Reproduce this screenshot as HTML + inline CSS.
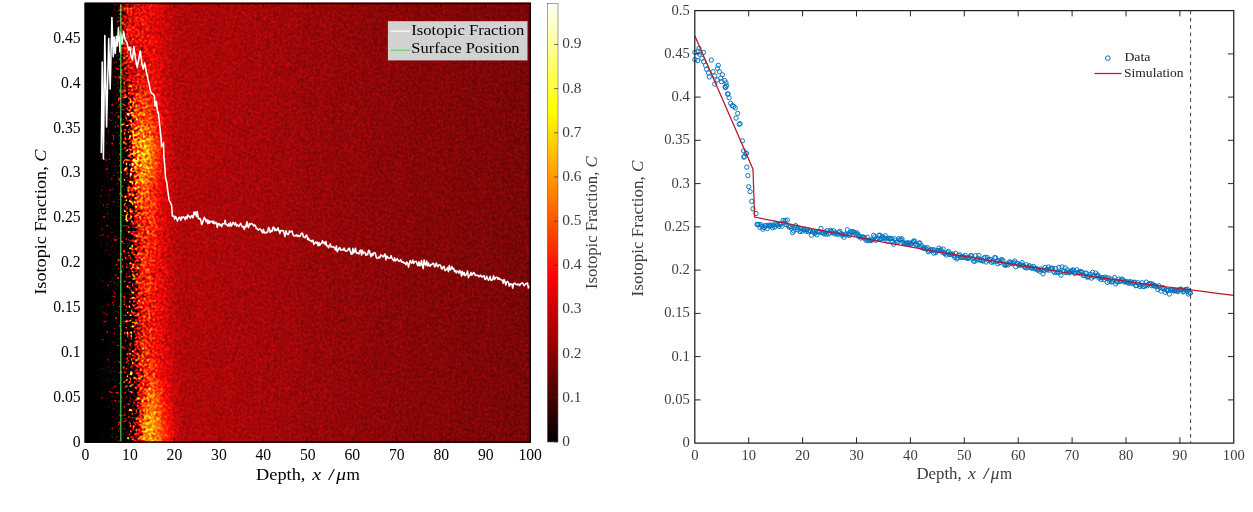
<!DOCTYPE html>
<html><head><meta charset="utf-8"><title>Isotopic fraction depth profile</title>
<style>
html,body{margin:0;padding:0;background:#fff;}
body{width:1253px;height:512px;overflow:hidden;font-family:"Liberation Serif","DejaVu Serif",serif;}
svg{display:block;font-family:"Liberation Serif","DejaVu Serif",serif;}
</style></head><body>
<svg width="1253" height="512" viewBox="0 0 1253 512">
<defs>
<linearGradient id="g0" gradientUnits="userSpaceOnUse" x1="73" x2="543" y1="0" y2="0"><stop offset="0.0255" stop-color="rgb(32,0,0)"/><stop offset="0.0574" stop-color="rgb(13,38,0)"/><stop offset="0.0647" stop-color="rgb(0,153,0)"/><stop offset="0.0775" stop-color="rgb(36,140,0)"/><stop offset="0.0903" stop-color="rgb(73,128,0)"/><stop offset="0.0988" stop-color="rgb(124,102,0)"/><stop offset="0.1073" stop-color="rgb(155,77,0)"/><stop offset="0.1158" stop-color="rgb(168,64,0)"/><stop offset="0.1243" stop-color="rgb(175,54,0)"/><stop offset="0.1328" stop-color="rgb(180,46,0)"/><stop offset="0.1413" stop-color="rgb(183,41,0)"/><stop offset="0.1541" stop-color="rgb(186,34,0)"/><stop offset="0.1669" stop-color="rgb(189,28,0)"/><stop offset="0.1796" stop-color="rgb(190,23,0)"/><stop offset="0.1924" stop-color="rgb(188,19,0)"/><stop offset="0.2052" stop-color="rgb(187,17,0)"/><stop offset="0.2179" stop-color="rgb(186,15,0)"/><stop offset="0.2404" stop-color="rgb(186,13,0)"/><stop offset="0.2702" stop-color="rgb(186,13,0)"/><stop offset="0.3979" stop-color="rgb(184,13,0)"/><stop offset="0.5894" stop-color="rgb(181,12,0)"/><stop offset="0.7809" stop-color="rgb(179,11,0)"/><stop offset="0.9734" stop-color="rgb(177,11,0)"/></linearGradient><linearGradient id="g1" gradientUnits="userSpaceOnUse" x1="73" x2="543" y1="0" y2="0"><stop offset="0.0255" stop-color="rgb(32,0,0)"/><stop offset="0.0574" stop-color="rgb(13,38,0)"/><stop offset="0.0649" stop-color="rgb(0,153,0)"/><stop offset="0.0777" stop-color="rgb(36,140,0)"/><stop offset="0.0904" stop-color="rgb(73,128,0)"/><stop offset="0.0989" stop-color="rgb(124,102,0)"/><stop offset="0.1074" stop-color="rgb(155,77,0)"/><stop offset="0.1160" stop-color="rgb(168,64,0)"/><stop offset="0.1245" stop-color="rgb(175,54,0)"/><stop offset="0.1330" stop-color="rgb(180,46,0)"/><stop offset="0.1415" stop-color="rgb(183,41,0)"/><stop offset="0.1543" stop-color="rgb(186,34,0)"/><stop offset="0.1670" stop-color="rgb(189,28,0)"/><stop offset="0.1798" stop-color="rgb(190,23,0)"/><stop offset="0.1926" stop-color="rgb(188,19,0)"/><stop offset="0.2053" stop-color="rgb(187,17,0)"/><stop offset="0.2181" stop-color="rgb(186,15,0)"/><stop offset="0.2404" stop-color="rgb(186,13,0)"/><stop offset="0.2702" stop-color="rgb(186,13,0)"/><stop offset="0.3979" stop-color="rgb(184,13,0)"/><stop offset="0.5894" stop-color="rgb(181,12,0)"/><stop offset="0.7809" stop-color="rgb(179,11,0)"/><stop offset="0.9734" stop-color="rgb(177,11,0)"/></linearGradient><linearGradient id="g2" gradientUnits="userSpaceOnUse" x1="73" x2="543" y1="0" y2="0"><stop offset="0.0255" stop-color="rgb(32,0,0)"/><stop offset="0.0574" stop-color="rgb(13,38,0)"/><stop offset="0.0650" stop-color="rgb(0,153,0)"/><stop offset="0.0778" stop-color="rgb(36,140,0)"/><stop offset="0.0906" stop-color="rgb(73,128,0)"/><stop offset="0.0991" stop-color="rgb(124,102,0)"/><stop offset="0.1076" stop-color="rgb(155,78,0)"/><stop offset="0.1161" stop-color="rgb(168,64,0)"/><stop offset="0.1246" stop-color="rgb(175,54,0)"/><stop offset="0.1331" stop-color="rgb(180,46,0)"/><stop offset="0.1416" stop-color="rgb(183,41,0)"/><stop offset="0.1544" stop-color="rgb(186,35,0)"/><stop offset="0.1672" stop-color="rgb(189,28,0)"/><stop offset="0.1799" stop-color="rgb(190,23,0)"/><stop offset="0.1927" stop-color="rgb(189,19,0)"/><stop offset="0.2055" stop-color="rgb(187,17,0)"/><stop offset="0.2182" stop-color="rgb(186,15,0)"/><stop offset="0.2404" stop-color="rgb(186,13,0)"/><stop offset="0.2702" stop-color="rgb(186,13,0)"/><stop offset="0.3979" stop-color="rgb(184,13,0)"/><stop offset="0.5894" stop-color="rgb(181,12,0)"/><stop offset="0.7809" stop-color="rgb(179,11,0)"/><stop offset="0.9734" stop-color="rgb(177,11,0)"/></linearGradient><linearGradient id="g3" gradientUnits="userSpaceOnUse" x1="73" x2="543" y1="0" y2="0"><stop offset="0.0255" stop-color="rgb(32,0,0)"/><stop offset="0.0574" stop-color="rgb(13,38,0)"/><stop offset="0.0652" stop-color="rgb(0,153,0)"/><stop offset="0.0779" stop-color="rgb(36,140,0)"/><stop offset="0.0907" stop-color="rgb(73,128,0)"/><stop offset="0.0992" stop-color="rgb(124,102,0)"/><stop offset="0.1077" stop-color="rgb(154,79,0)"/><stop offset="0.1162" stop-color="rgb(168,65,0)"/><stop offset="0.1248" stop-color="rgb(175,54,0)"/><stop offset="0.1333" stop-color="rgb(180,47,0)"/><stop offset="0.1418" stop-color="rgb(183,41,0)"/><stop offset="0.1545" stop-color="rgb(186,35,0)"/><stop offset="0.1673" stop-color="rgb(189,28,0)"/><stop offset="0.1801" stop-color="rgb(190,23,0)"/><stop offset="0.1928" stop-color="rgb(189,19,0)"/><stop offset="0.2056" stop-color="rgb(187,17,0)"/><stop offset="0.2184" stop-color="rgb(186,15,0)"/><stop offset="0.2404" stop-color="rgb(186,13,0)"/><stop offset="0.2702" stop-color="rgb(186,13,0)"/><stop offset="0.3979" stop-color="rgb(184,13,0)"/><stop offset="0.5894" stop-color="rgb(181,12,0)"/><stop offset="0.7809" stop-color="rgb(179,11,0)"/><stop offset="0.9734" stop-color="rgb(177,11,0)"/></linearGradient><linearGradient id="g4" gradientUnits="userSpaceOnUse" x1="73" x2="543" y1="0" y2="0"><stop offset="0.0255" stop-color="rgb(32,0,0)"/><stop offset="0.0574" stop-color="rgb(13,38,0)"/><stop offset="0.0653" stop-color="rgb(0,153,0)"/><stop offset="0.0781" stop-color="rgb(36,140,0)"/><stop offset="0.0909" stop-color="rgb(73,128,0)"/><stop offset="0.0994" stop-color="rgb(124,102,0)"/><stop offset="0.1079" stop-color="rgb(153,80,0)"/><stop offset="0.1164" stop-color="rgb(167,66,0)"/><stop offset="0.1249" stop-color="rgb(175,55,0)"/><stop offset="0.1334" stop-color="rgb(179,47,0)"/><stop offset="0.1419" stop-color="rgb(183,42,0)"/><stop offset="0.1547" stop-color="rgb(186,35,0)"/><stop offset="0.1675" stop-color="rgb(189,28,0)"/><stop offset="0.1802" stop-color="rgb(190,23,0)"/><stop offset="0.1930" stop-color="rgb(189,19,0)"/><stop offset="0.2058" stop-color="rgb(187,17,0)"/><stop offset="0.2185" stop-color="rgb(186,15,0)"/><stop offset="0.2404" stop-color="rgb(186,13,0)"/><stop offset="0.2702" stop-color="rgb(186,13,0)"/><stop offset="0.3979" stop-color="rgb(184,13,0)"/><stop offset="0.5894" stop-color="rgb(181,12,0)"/><stop offset="0.7809" stop-color="rgb(179,11,0)"/><stop offset="0.9734" stop-color="rgb(177,11,0)"/></linearGradient><linearGradient id="g5" gradientUnits="userSpaceOnUse" x1="73" x2="543" y1="0" y2="0"><stop offset="0.0255" stop-color="rgb(32,0,0)"/><stop offset="0.0574" stop-color="rgb(13,38,0)"/><stop offset="0.0655" stop-color="rgb(0,153,0)"/><stop offset="0.0782" stop-color="rgb(36,140,0)"/><stop offset="0.0910" stop-color="rgb(73,128,0)"/><stop offset="0.0995" stop-color="rgb(124,102,0)"/><stop offset="0.1080" stop-color="rgb(152,81,0)"/><stop offset="0.1165" stop-color="rgb(167,66,0)"/><stop offset="0.1250" stop-color="rgb(175,55,0)"/><stop offset="0.1336" stop-color="rgb(179,48,0)"/><stop offset="0.1421" stop-color="rgb(183,42,0)"/><stop offset="0.1548" stop-color="rgb(186,35,0)"/><stop offset="0.1676" stop-color="rgb(189,28,0)"/><stop offset="0.1804" stop-color="rgb(190,23,0)"/><stop offset="0.1931" stop-color="rgb(189,19,0)"/><stop offset="0.2059" stop-color="rgb(187,17,0)"/><stop offset="0.2187" stop-color="rgb(186,15,0)"/><stop offset="0.2404" stop-color="rgb(186,13,0)"/><stop offset="0.2702" stop-color="rgb(186,13,0)"/><stop offset="0.3979" stop-color="rgb(184,13,0)"/><stop offset="0.5894" stop-color="rgb(181,12,0)"/><stop offset="0.7809" stop-color="rgb(179,11,0)"/><stop offset="0.9734" stop-color="rgb(177,11,0)"/></linearGradient><linearGradient id="g6" gradientUnits="userSpaceOnUse" x1="73" x2="543" y1="0" y2="0"><stop offset="0.0255" stop-color="rgb(32,0,0)"/><stop offset="0.0574" stop-color="rgb(13,38,0)"/><stop offset="0.0656" stop-color="rgb(0,153,0)"/><stop offset="0.0784" stop-color="rgb(36,140,0)"/><stop offset="0.0912" stop-color="rgb(73,128,0)"/><stop offset="0.0997" stop-color="rgb(124,102,0)"/><stop offset="0.1082" stop-color="rgb(151,83,0)"/><stop offset="0.1167" stop-color="rgb(167,67,0)"/><stop offset="0.1252" stop-color="rgb(175,55,0)"/><stop offset="0.1337" stop-color="rgb(179,48,0)"/><stop offset="0.1422" stop-color="rgb(183,42,0)"/><stop offset="0.1550" stop-color="rgb(186,35,0)"/><stop offset="0.1677" stop-color="rgb(189,28,0)"/><stop offset="0.1805" stop-color="rgb(190,23,0)"/><stop offset="0.1933" stop-color="rgb(189,19,0)"/><stop offset="0.2060" stop-color="rgb(187,17,0)"/><stop offset="0.2188" stop-color="rgb(186,15,0)"/><stop offset="0.2404" stop-color="rgb(186,13,0)"/><stop offset="0.2702" stop-color="rgb(186,13,0)"/><stop offset="0.3979" stop-color="rgb(184,13,0)"/><stop offset="0.5894" stop-color="rgb(181,12,0)"/><stop offset="0.7809" stop-color="rgb(179,11,0)"/><stop offset="0.9734" stop-color="rgb(177,11,0)"/></linearGradient><linearGradient id="g7" gradientUnits="userSpaceOnUse" x1="73" x2="543" y1="0" y2="0"><stop offset="0.0255" stop-color="rgb(32,0,0)"/><stop offset="0.0574" stop-color="rgb(13,38,0)"/><stop offset="0.0658" stop-color="rgb(0,153,0)"/><stop offset="0.0785" stop-color="rgb(36,140,0)"/><stop offset="0.0913" stop-color="rgb(73,128,0)"/><stop offset="0.0998" stop-color="rgb(124,102,0)"/><stop offset="0.1083" stop-color="rgb(150,84,0)"/><stop offset="0.1168" stop-color="rgb(166,68,0)"/><stop offset="0.1253" stop-color="rgb(175,56,0)"/><stop offset="0.1338" stop-color="rgb(179,49,0)"/><stop offset="0.1424" stop-color="rgb(183,42,0)"/><stop offset="0.1551" stop-color="rgb(187,35,0)"/><stop offset="0.1679" stop-color="rgb(189,28,0)"/><stop offset="0.1807" stop-color="rgb(190,23,0)"/><stop offset="0.1934" stop-color="rgb(189,19,0)"/><stop offset="0.2062" stop-color="rgb(187,17,0)"/><stop offset="0.2190" stop-color="rgb(186,15,0)"/><stop offset="0.2404" stop-color="rgb(186,13,0)"/><stop offset="0.2702" stop-color="rgb(186,13,0)"/><stop offset="0.3979" stop-color="rgb(184,13,0)"/><stop offset="0.5894" stop-color="rgb(181,12,0)"/><stop offset="0.7809" stop-color="rgb(179,11,0)"/><stop offset="0.9734" stop-color="rgb(177,11,0)"/></linearGradient><linearGradient id="g8" gradientUnits="userSpaceOnUse" x1="73" x2="543" y1="0" y2="0"><stop offset="0.0255" stop-color="rgb(32,0,0)"/><stop offset="0.0574" stop-color="rgb(13,38,0)"/><stop offset="0.0659" stop-color="rgb(0,153,0)"/><stop offset="0.0787" stop-color="rgb(36,140,0)"/><stop offset="0.0914" stop-color="rgb(73,128,0)"/><stop offset="0.1000" stop-color="rgb(124,102,0)"/><stop offset="0.1085" stop-color="rgb(149,86,0)"/><stop offset="0.1170" stop-color="rgb(166,68,0)"/><stop offset="0.1255" stop-color="rgb(174,56,0)"/><stop offset="0.1340" stop-color="rgb(179,50,0)"/><stop offset="0.1425" stop-color="rgb(183,43,0)"/><stop offset="0.1553" stop-color="rgb(187,35,0)"/><stop offset="0.1680" stop-color="rgb(189,28,0)"/><stop offset="0.1808" stop-color="rgb(190,23,0)"/><stop offset="0.1936" stop-color="rgb(189,19,0)"/><stop offset="0.2063" stop-color="rgb(187,17,0)"/><stop offset="0.2191" stop-color="rgb(186,15,0)"/><stop offset="0.2404" stop-color="rgb(186,13,0)"/><stop offset="0.2702" stop-color="rgb(186,13,0)"/><stop offset="0.3979" stop-color="rgb(184,13,0)"/><stop offset="0.5894" stop-color="rgb(181,12,0)"/><stop offset="0.7809" stop-color="rgb(179,11,0)"/><stop offset="0.9734" stop-color="rgb(177,11,0)"/></linearGradient><linearGradient id="g9" gradientUnits="userSpaceOnUse" x1="73" x2="543" y1="0" y2="0"><stop offset="0.0255" stop-color="rgb(32,0,0)"/><stop offset="0.0574" stop-color="rgb(13,38,0)"/><stop offset="0.0661" stop-color="rgb(0,153,0)"/><stop offset="0.0788" stop-color="rgb(36,140,0)"/><stop offset="0.0916" stop-color="rgb(73,128,0)"/><stop offset="0.1001" stop-color="rgb(124,102,0)"/><stop offset="0.1086" stop-color="rgb(148,87,0)"/><stop offset="0.1171" stop-color="rgb(166,69,0)"/><stop offset="0.1256" stop-color="rgb(174,57,0)"/><stop offset="0.1341" stop-color="rgb(179,50,0)"/><stop offset="0.1426" stop-color="rgb(183,43,0)"/><stop offset="0.1554" stop-color="rgb(187,35,0)"/><stop offset="0.1682" stop-color="rgb(189,28,0)"/><stop offset="0.1809" stop-color="rgb(190,23,0)"/><stop offset="0.1937" stop-color="rgb(189,19,0)"/><stop offset="0.2065" stop-color="rgb(187,17,0)"/><stop offset="0.2192" stop-color="rgb(186,15,0)"/><stop offset="0.2404" stop-color="rgb(186,13,0)"/><stop offset="0.2702" stop-color="rgb(186,13,0)"/><stop offset="0.3979" stop-color="rgb(184,13,0)"/><stop offset="0.5894" stop-color="rgb(181,12,0)"/><stop offset="0.7809" stop-color="rgb(179,11,0)"/><stop offset="0.9734" stop-color="rgb(177,11,0)"/></linearGradient><linearGradient id="g10" gradientUnits="userSpaceOnUse" x1="73" x2="543" y1="0" y2="0"><stop offset="0.0255" stop-color="rgb(32,0,0)"/><stop offset="0.0574" stop-color="rgb(13,38,0)"/><stop offset="0.0662" stop-color="rgb(0,153,0)"/><stop offset="0.0790" stop-color="rgb(36,140,0)"/><stop offset="0.0917" stop-color="rgb(73,128,0)"/><stop offset="0.1002" stop-color="rgb(124,102,0)"/><stop offset="0.1088" stop-color="rgb(148,88,0)"/><stop offset="0.1173" stop-color="rgb(165,69,0)"/><stop offset="0.1258" stop-color="rgb(174,57,0)"/><stop offset="0.1343" stop-color="rgb(179,50,0)"/><stop offset="0.1428" stop-color="rgb(183,43,0)"/><stop offset="0.1556" stop-color="rgb(187,36,0)"/><stop offset="0.1683" stop-color="rgb(189,28,0)"/><stop offset="0.1811" stop-color="rgb(190,23,0)"/><stop offset="0.1939" stop-color="rgb(189,19,0)"/><stop offset="0.2066" stop-color="rgb(187,17,0)"/><stop offset="0.2194" stop-color="rgb(186,15,0)"/><stop offset="0.2404" stop-color="rgb(186,13,0)"/><stop offset="0.2702" stop-color="rgb(186,13,0)"/><stop offset="0.3979" stop-color="rgb(184,13,0)"/><stop offset="0.5894" stop-color="rgb(181,12,0)"/><stop offset="0.7809" stop-color="rgb(179,11,0)"/><stop offset="0.9734" stop-color="rgb(177,11,0)"/></linearGradient><linearGradient id="g11" gradientUnits="userSpaceOnUse" x1="73" x2="543" y1="0" y2="0"><stop offset="0.0255" stop-color="rgb(32,0,0)"/><stop offset="0.0574" stop-color="rgb(13,38,0)"/><stop offset="0.0663" stop-color="rgb(0,153,0)"/><stop offset="0.0791" stop-color="rgb(36,140,0)"/><stop offset="0.0919" stop-color="rgb(73,128,0)"/><stop offset="0.1004" stop-color="rgb(124,102,0)"/><stop offset="0.1089" stop-color="rgb(147,89,0)"/><stop offset="0.1174" stop-color="rgb(165,70,0)"/><stop offset="0.1259" stop-color="rgb(174,57,0)"/><stop offset="0.1344" stop-color="rgb(179,51,0)"/><stop offset="0.1429" stop-color="rgb(183,43,0)"/><stop offset="0.1557" stop-color="rgb(187,36,0)"/><stop offset="0.1685" stop-color="rgb(189,28,0)"/><stop offset="0.1812" stop-color="rgb(190,23,0)"/><stop offset="0.1940" stop-color="rgb(189,19,0)"/><stop offset="0.2068" stop-color="rgb(187,17,0)"/><stop offset="0.2195" stop-color="rgb(186,15,0)"/><stop offset="0.2404" stop-color="rgb(186,13,0)"/><stop offset="0.2702" stop-color="rgb(186,13,0)"/><stop offset="0.3979" stop-color="rgb(184,13,0)"/><stop offset="0.5894" stop-color="rgb(181,12,0)"/><stop offset="0.7809" stop-color="rgb(179,11,0)"/><stop offset="0.9734" stop-color="rgb(177,11,0)"/></linearGradient><linearGradient id="g12" gradientUnits="userSpaceOnUse" x1="73" x2="543" y1="0" y2="0"><stop offset="0.0255" stop-color="rgb(32,0,0)"/><stop offset="0.0574" stop-color="rgb(13,38,0)"/><stop offset="0.0665" stop-color="rgb(0,153,0)"/><stop offset="0.0793" stop-color="rgb(36,140,0)"/><stop offset="0.0920" stop-color="rgb(73,128,0)"/><stop offset="0.1005" stop-color="rgb(124,102,0)"/><stop offset="0.1090" stop-color="rgb(147,89,0)"/><stop offset="0.1176" stop-color="rgb(165,70,0)"/><stop offset="0.1261" stop-color="rgb(174,57,0)"/><stop offset="0.1346" stop-color="rgb(179,51,0)"/><stop offset="0.1431" stop-color="rgb(183,43,0)"/><stop offset="0.1559" stop-color="rgb(187,36,0)"/><stop offset="0.1686" stop-color="rgb(189,28,0)"/><stop offset="0.1814" stop-color="rgb(190,23,0)"/><stop offset="0.1941" stop-color="rgb(189,19,0)"/><stop offset="0.2069" stop-color="rgb(187,17,0)"/><stop offset="0.2197" stop-color="rgb(186,15,0)"/><stop offset="0.2404" stop-color="rgb(186,13,0)"/><stop offset="0.2702" stop-color="rgb(186,13,0)"/><stop offset="0.3979" stop-color="rgb(184,13,0)"/><stop offset="0.5894" stop-color="rgb(181,12,0)"/><stop offset="0.7809" stop-color="rgb(179,11,0)"/><stop offset="0.9734" stop-color="rgb(177,11,0)"/></linearGradient><linearGradient id="g13" gradientUnits="userSpaceOnUse" x1="73" x2="543" y1="0" y2="0"><stop offset="0.0255" stop-color="rgb(32,0,0)"/><stop offset="0.0574" stop-color="rgb(13,39,0)"/><stop offset="0.0666" stop-color="rgb(0,153,0)"/><stop offset="0.0794" stop-color="rgb(36,140,0)"/><stop offset="0.0922" stop-color="rgb(73,128,0)"/><stop offset="0.1007" stop-color="rgb(123,103,0)"/><stop offset="0.1092" stop-color="rgb(146,90,0)"/><stop offset="0.1177" stop-color="rgb(165,71,0)"/><stop offset="0.1262" stop-color="rgb(174,58,0)"/><stop offset="0.1347" stop-color="rgb(178,51,0)"/><stop offset="0.1432" stop-color="rgb(183,43,0)"/><stop offset="0.1560" stop-color="rgb(187,36,0)"/><stop offset="0.1688" stop-color="rgb(189,28,0)"/><stop offset="0.1815" stop-color="rgb(190,23,0)"/><stop offset="0.1943" stop-color="rgb(189,19,0)"/><stop offset="0.2071" stop-color="rgb(187,17,0)"/><stop offset="0.2198" stop-color="rgb(186,15,0)"/><stop offset="0.2404" stop-color="rgb(186,13,0)"/><stop offset="0.2702" stop-color="rgb(186,13,0)"/><stop offset="0.3979" stop-color="rgb(184,13,0)"/><stop offset="0.5894" stop-color="rgb(181,12,0)"/><stop offset="0.7809" stop-color="rgb(179,11,0)"/><stop offset="0.9734" stop-color="rgb(177,11,0)"/></linearGradient><linearGradient id="g14" gradientUnits="userSpaceOnUse" x1="73" x2="543" y1="0" y2="0"><stop offset="0.0255" stop-color="rgb(32,0,0)"/><stop offset="0.0574" stop-color="rgb(13,49,0)"/><stop offset="0.0668" stop-color="rgb(0,154,0)"/><stop offset="0.0795" stop-color="rgb(36,142,0)"/><stop offset="0.0923" stop-color="rgb(70,131,0)"/><stop offset="0.1008" stop-color="rgb(117,109,0)"/><stop offset="0.1093" stop-color="rgb(138,101,0)"/><stop offset="0.1178" stop-color="rgb(158,81,0)"/><stop offset="0.1264" stop-color="rgb(171,65,0)"/><stop offset="0.1349" stop-color="rgb(178,54,0)"/><stop offset="0.1434" stop-color="rgb(183,45,0)"/><stop offset="0.1561" stop-color="rgb(187,37,0)"/><stop offset="0.1689" stop-color="rgb(190,29,0)"/><stop offset="0.1817" stop-color="rgb(190,23,0)"/><stop offset="0.1944" stop-color="rgb(189,19,0)"/><stop offset="0.2072" stop-color="rgb(187,17,0)"/><stop offset="0.2200" stop-color="rgb(186,15,0)"/><stop offset="0.2404" stop-color="rgb(186,13,0)"/><stop offset="0.2702" stop-color="rgb(186,13,0)"/><stop offset="0.3979" stop-color="rgb(184,13,0)"/><stop offset="0.5894" stop-color="rgb(181,12,0)"/><stop offset="0.7809" stop-color="rgb(179,11,0)"/><stop offset="0.9734" stop-color="rgb(177,11,0)"/></linearGradient><linearGradient id="g15" gradientUnits="userSpaceOnUse" x1="73" x2="543" y1="0" y2="0"><stop offset="0.0255" stop-color="rgb(32,0,0)"/><stop offset="0.0574" stop-color="rgb(13,68,0)"/><stop offset="0.0669" stop-color="rgb(0,156,0)"/><stop offset="0.0797" stop-color="rgb(36,146,0)"/><stop offset="0.0925" stop-color="rgb(66,136,0)"/><stop offset="0.1010" stop-color="rgb(105,123,0)"/><stop offset="0.1095" stop-color="rgb(123,122,0)"/><stop offset="0.1180" stop-color="rgb(146,101,0)"/><stop offset="0.1265" stop-color="rgb(164,78,0)"/><stop offset="0.1350" stop-color="rgb(177,60,0)"/><stop offset="0.1435" stop-color="rgb(184,49,0)"/><stop offset="0.1563" stop-color="rgb(188,39,0)"/><stop offset="0.1691" stop-color="rgb(190,30,0)"/><stop offset="0.1818" stop-color="rgb(190,24,0)"/><stop offset="0.1946" stop-color="rgb(189,20,0)"/><stop offset="0.2074" stop-color="rgb(187,17,0)"/><stop offset="0.2201" stop-color="rgb(186,15,0)"/><stop offset="0.2404" stop-color="rgb(186,13,0)"/><stop offset="0.2702" stop-color="rgb(186,13,0)"/><stop offset="0.3979" stop-color="rgb(184,13,0)"/><stop offset="0.5894" stop-color="rgb(181,12,0)"/><stop offset="0.7809" stop-color="rgb(179,11,0)"/><stop offset="0.9734" stop-color="rgb(177,11,0)"/></linearGradient><linearGradient id="g16" gradientUnits="userSpaceOnUse" x1="73" x2="543" y1="0" y2="0"><stop offset="0.0255" stop-color="rgb(32,0,0)"/><stop offset="0.0574" stop-color="rgb(13,91,0)"/><stop offset="0.0671" stop-color="rgb(2,158,0)"/><stop offset="0.0798" stop-color="rgb(36,151,0)"/><stop offset="0.0926" stop-color="rgb(60,143,0)"/><stop offset="0.1011" stop-color="rgb(89,139,0)"/><stop offset="0.1096" stop-color="rgb(104,148,0)"/><stop offset="0.1181" stop-color="rgb(131,126,0)"/><stop offset="0.1266" stop-color="rgb(156,95,0)"/><stop offset="0.1352" stop-color="rgb(176,67,0)"/><stop offset="0.1437" stop-color="rgb(185,53,0)"/><stop offset="0.1564" stop-color="rgb(190,42,0)"/><stop offset="0.1692" stop-color="rgb(191,32,0)"/><stop offset="0.1820" stop-color="rgb(190,25,0)"/><stop offset="0.1947" stop-color="rgb(189,20,0)"/><stop offset="0.2075" stop-color="rgb(187,17,0)"/><stop offset="0.2203" stop-color="rgb(186,15,0)"/><stop offset="0.2404" stop-color="rgb(186,13,0)"/><stop offset="0.2702" stop-color="rgb(186,13,0)"/><stop offset="0.3979" stop-color="rgb(184,13,0)"/><stop offset="0.5894" stop-color="rgb(181,12,0)"/><stop offset="0.7809" stop-color="rgb(179,11,0)"/><stop offset="0.9734" stop-color="rgb(177,11,0)"/></linearGradient><linearGradient id="g17" gradientUnits="userSpaceOnUse" x1="73" x2="543" y1="0" y2="0"><stop offset="0.0255" stop-color="rgb(32,0,0)"/><stop offset="0.0574" stop-color="rgb(13,117,0)"/><stop offset="0.0672" stop-color="rgb(11,161,0)"/><stop offset="0.0800" stop-color="rgb(36,156,0)"/><stop offset="0.0927" stop-color="rgb(55,151,0)"/><stop offset="0.1013" stop-color="rgb(73,157,0)"/><stop offset="0.1098" stop-color="rgb(84,176,0)"/><stop offset="0.1183" stop-color="rgb(114,153,0)"/><stop offset="0.1268" stop-color="rgb(148,112,0)"/><stop offset="0.1353" stop-color="rgb(175,75,0)"/><stop offset="0.1438" stop-color="rgb(186,57,0)"/><stop offset="0.1566" stop-color="rgb(191,45,0)"/><stop offset="0.1693" stop-color="rgb(192,34,0)"/><stop offset="0.1821" stop-color="rgb(191,26,0)"/><stop offset="0.1949" stop-color="rgb(189,21,0)"/><stop offset="0.2076" stop-color="rgb(187,17,0)"/><stop offset="0.2204" stop-color="rgb(186,15,0)"/><stop offset="0.2404" stop-color="rgb(186,13,0)"/><stop offset="0.2702" stop-color="rgb(186,13,0)"/><stop offset="0.3979" stop-color="rgb(184,13,0)"/><stop offset="0.5894" stop-color="rgb(181,12,0)"/><stop offset="0.7809" stop-color="rgb(179,11,0)"/><stop offset="0.9734" stop-color="rgb(177,11,0)"/></linearGradient><linearGradient id="g18" gradientUnits="userSpaceOnUse" x1="73" x2="543" y1="0" y2="0"><stop offset="0.0255" stop-color="rgb(32,0,0)"/><stop offset="0.0574" stop-color="rgb(13,140,0)"/><stop offset="0.0674" stop-color="rgb(21,163,0)"/><stop offset="0.0801" stop-color="rgb(37,161,0)"/><stop offset="0.0929" stop-color="rgb(49,158,0)"/><stop offset="0.1014" stop-color="rgb(58,173,0)"/><stop offset="0.1099" stop-color="rgb(65,201,0)"/><stop offset="0.1184" stop-color="rgb(99,177,0)"/><stop offset="0.1269" stop-color="rgb(140,129,0)"/><stop offset="0.1354" stop-color="rgb(174,82,0)"/><stop offset="0.1440" stop-color="rgb(188,62,0)"/><stop offset="0.1567" stop-color="rgb(192,48,0)"/><stop offset="0.1695" stop-color="rgb(193,36,0)"/><stop offset="0.1823" stop-color="rgb(191,27,0)"/><stop offset="0.1950" stop-color="rgb(189,21,0)"/><stop offset="0.2078" stop-color="rgb(187,17,0)"/><stop offset="0.2206" stop-color="rgb(186,15,0)"/><stop offset="0.2404" stop-color="rgb(186,13,0)"/><stop offset="0.2702" stop-color="rgb(186,13,0)"/><stop offset="0.3979" stop-color="rgb(184,13,0)"/><stop offset="0.5894" stop-color="rgb(181,12,0)"/><stop offset="0.7809" stop-color="rgb(179,11,0)"/><stop offset="0.9734" stop-color="rgb(177,11,0)"/></linearGradient><linearGradient id="g19" gradientUnits="userSpaceOnUse" x1="73" x2="543" y1="0" y2="0"><stop offset="0.0255" stop-color="rgb(32,0,0)"/><stop offset="0.0574" stop-color="rgb(13,157,0)"/><stop offset="0.0675" stop-color="rgb(27,165,0)"/><stop offset="0.0803" stop-color="rgb(37,164,0)"/><stop offset="0.0930" stop-color="rgb(45,163,0)"/><stop offset="0.1015" stop-color="rgb(46,185,0)"/><stop offset="0.1101" stop-color="rgb(51,220,0)"/><stop offset="0.1186" stop-color="rgb(88,195,0)"/><stop offset="0.1271" stop-color="rgb(135,141,0)"/><stop offset="0.1356" stop-color="rgb(174,87,0)"/><stop offset="0.1441" stop-color="rgb(188,65,0)"/><stop offset="0.1569" stop-color="rgb(193,50,0)"/><stop offset="0.1696" stop-color="rgb(194,38,0)"/><stop offset="0.1824" stop-color="rgb(191,28,0)"/><stop offset="0.1952" stop-color="rgb(188,22,0)"/><stop offset="0.2079" stop-color="rgb(187,17,0)"/><stop offset="0.2207" stop-color="rgb(186,15,0)"/><stop offset="0.2404" stop-color="rgb(186,13,0)"/><stop offset="0.2702" stop-color="rgb(186,13,0)"/><stop offset="0.3979" stop-color="rgb(184,13,0)"/><stop offset="0.5894" stop-color="rgb(181,12,0)"/><stop offset="0.7809" stop-color="rgb(179,11,0)"/><stop offset="0.9734" stop-color="rgb(177,11,0)"/></linearGradient><linearGradient id="g20" gradientUnits="userSpaceOnUse" x1="73" x2="543" y1="0" y2="0"><stop offset="0.0255" stop-color="rgb(32,0,0)"/><stop offset="0.0574" stop-color="rgb(13,166,0)"/><stop offset="0.0676" stop-color="rgb(31,166,0)"/><stop offset="0.0804" stop-color="rgb(37,166,0)"/><stop offset="0.0932" stop-color="rgb(43,166,0)"/><stop offset="0.1017" stop-color="rgb(41,191,0)"/><stop offset="0.1102" stop-color="rgb(45,229,0)"/><stop offset="0.1187" stop-color="rgb(83,204,0)"/><stop offset="0.1272" stop-color="rgb(132,146,0)"/><stop offset="0.1357" stop-color="rgb(173,89,0)"/><stop offset="0.1442" stop-color="rgb(189,66,0)"/><stop offset="0.1570" stop-color="rgb(194,51,0)"/><stop offset="0.1698" stop-color="rgb(194,38,0)"/><stop offset="0.1825" stop-color="rgb(192,28,0)"/><stop offset="0.1953" stop-color="rgb(188,22,0)"/><stop offset="0.2081" stop-color="rgb(187,17,0)"/><stop offset="0.2208" stop-color="rgb(186,15,0)"/><stop offset="0.2404" stop-color="rgb(186,13,0)"/><stop offset="0.2702" stop-color="rgb(186,13,0)"/><stop offset="0.3979" stop-color="rgb(184,13,0)"/><stop offset="0.5894" stop-color="rgb(181,12,0)"/><stop offset="0.7809" stop-color="rgb(179,11,0)"/><stop offset="0.9734" stop-color="rgb(177,11,0)"/></linearGradient><linearGradient id="g21" gradientUnits="userSpaceOnUse" x1="73" x2="543" y1="0" y2="0"><stop offset="0.0255" stop-color="rgb(32,0,0)"/><stop offset="0.0574" stop-color="rgb(13,166,0)"/><stop offset="0.0678" stop-color="rgb(31,166,0)"/><stop offset="0.0806" stop-color="rgb(37,166,0)"/><stop offset="0.0933" stop-color="rgb(43,166,0)"/><stop offset="0.1018" stop-color="rgb(41,191,0)"/><stop offset="0.1103" stop-color="rgb(44,230,0)"/><stop offset="0.1189" stop-color="rgb(83,204,0)"/><stop offset="0.1274" stop-color="rgb(132,147,0)"/><stop offset="0.1359" stop-color="rgb(174,89,0)"/><stop offset="0.1444" stop-color="rgb(190,66,0)"/><stop offset="0.1572" stop-color="rgb(195,51,0)"/><stop offset="0.1699" stop-color="rgb(195,38,0)"/><stop offset="0.1827" stop-color="rgb(192,28,0)"/><stop offset="0.1955" stop-color="rgb(189,22,0)"/><stop offset="0.2082" stop-color="rgb(187,17,0)"/><stop offset="0.2210" stop-color="rgb(186,15,0)"/><stop offset="0.2404" stop-color="rgb(186,13,0)"/><stop offset="0.2702" stop-color="rgb(186,13,0)"/><stop offset="0.3979" stop-color="rgb(184,13,0)"/><stop offset="0.5894" stop-color="rgb(181,12,0)"/><stop offset="0.7809" stop-color="rgb(179,11,0)"/><stop offset="0.9734" stop-color="rgb(177,11,0)"/></linearGradient><linearGradient id="g22" gradientUnits="userSpaceOnUse" x1="73" x2="543" y1="0" y2="0"><stop offset="0.0255" stop-color="rgb(32,0,0)"/><stop offset="0.0574" stop-color="rgb(13,166,0)"/><stop offset="0.0679" stop-color="rgb(31,166,0)"/><stop offset="0.0807" stop-color="rgb(37,166,0)"/><stop offset="0.0935" stop-color="rgb(43,166,0)"/><stop offset="0.1020" stop-color="rgb(41,191,0)"/><stop offset="0.1105" stop-color="rgb(43,230,0)"/><stop offset="0.1190" stop-color="rgb(82,204,0)"/><stop offset="0.1275" stop-color="rgb(134,147,0)"/><stop offset="0.1360" stop-color="rgb(177,89,0)"/><stop offset="0.1445" stop-color="rgb(193,66,0)"/><stop offset="0.1573" stop-color="rgb(198,51,0)"/><stop offset="0.1701" stop-color="rgb(197,38,0)"/><stop offset="0.1828" stop-color="rgb(193,28,0)"/><stop offset="0.1956" stop-color="rgb(189,22,0)"/><stop offset="0.2084" stop-color="rgb(187,17,0)"/><stop offset="0.2211" stop-color="rgb(186,15,0)"/><stop offset="0.2404" stop-color="rgb(186,13,0)"/><stop offset="0.2702" stop-color="rgb(186,13,0)"/><stop offset="0.3979" stop-color="rgb(184,13,0)"/><stop offset="0.5894" stop-color="rgb(181,12,0)"/><stop offset="0.7809" stop-color="rgb(179,11,0)"/><stop offset="0.9734" stop-color="rgb(177,11,0)"/></linearGradient><linearGradient id="g23" gradientUnits="userSpaceOnUse" x1="73" x2="543" y1="0" y2="0"><stop offset="0.0255" stop-color="rgb(32,0,0)"/><stop offset="0.0574" stop-color="rgb(13,166,0)"/><stop offset="0.0681" stop-color="rgb(31,166,0)"/><stop offset="0.0809" stop-color="rgb(37,166,0)"/><stop offset="0.0936" stop-color="rgb(43,166,0)"/><stop offset="0.1021" stop-color="rgb(41,191,0)"/><stop offset="0.1106" stop-color="rgb(42,229,0)"/><stop offset="0.1191" stop-color="rgb(82,204,0)"/><stop offset="0.1277" stop-color="rgb(136,147,0)"/><stop offset="0.1362" stop-color="rgb(181,89,0)"/><stop offset="0.1447" stop-color="rgb(198,66,0)"/><stop offset="0.1574" stop-color="rgb(203,51,0)"/><stop offset="0.1702" stop-color="rgb(201,38,0)"/><stop offset="0.1830" stop-color="rgb(195,28,0)"/><stop offset="0.1957" stop-color="rgb(189,22,0)"/><stop offset="0.2085" stop-color="rgb(187,17,0)"/><stop offset="0.2213" stop-color="rgb(186,15,0)"/><stop offset="0.2404" stop-color="rgb(186,13,0)"/><stop offset="0.2702" stop-color="rgb(186,13,0)"/><stop offset="0.3979" stop-color="rgb(184,13,0)"/><stop offset="0.5894" stop-color="rgb(181,12,0)"/><stop offset="0.7809" stop-color="rgb(179,11,0)"/><stop offset="0.9734" stop-color="rgb(177,11,0)"/></linearGradient><linearGradient id="g24" gradientUnits="userSpaceOnUse" x1="73" x2="543" y1="0" y2="0"><stop offset="0.0255" stop-color="rgb(32,0,0)"/><stop offset="0.0574" stop-color="rgb(13,166,0)"/><stop offset="0.0682" stop-color="rgb(31,166,0)"/><stop offset="0.0810" stop-color="rgb(37,166,0)"/><stop offset="0.0938" stop-color="rgb(43,166,0)"/><stop offset="0.1023" stop-color="rgb(41,191,0)"/><stop offset="0.1108" stop-color="rgb(40,230,0)"/><stop offset="0.1193" stop-color="rgb(81,204,0)"/><stop offset="0.1278" stop-color="rgb(138,147,0)"/><stop offset="0.1363" stop-color="rgb(185,89,0)"/><stop offset="0.1448" stop-color="rgb(203,66,0)"/><stop offset="0.1576" stop-color="rgb(208,51,0)"/><stop offset="0.1704" stop-color="rgb(204,38,0)"/><stop offset="0.1831" stop-color="rgb(197,28,0)"/><stop offset="0.1959" stop-color="rgb(190,22,0)"/><stop offset="0.2087" stop-color="rgb(188,17,0)"/><stop offset="0.2214" stop-color="rgb(186,15,0)"/><stop offset="0.2404" stop-color="rgb(186,13,0)"/><stop offset="0.2702" stop-color="rgb(186,13,0)"/><stop offset="0.3979" stop-color="rgb(184,13,0)"/><stop offset="0.5894" stop-color="rgb(181,12,0)"/><stop offset="0.7809" stop-color="rgb(179,11,0)"/><stop offset="0.9734" stop-color="rgb(177,11,0)"/></linearGradient><linearGradient id="g25" gradientUnits="userSpaceOnUse" x1="73" x2="543" y1="0" y2="0"><stop offset="0.0255" stop-color="rgb(32,0,0)"/><stop offset="0.0574" stop-color="rgb(13,166,0)"/><stop offset="0.0684" stop-color="rgb(31,166,0)"/><stop offset="0.0811" stop-color="rgb(37,166,0)"/><stop offset="0.0939" stop-color="rgb(43,166,0)"/><stop offset="0.1024" stop-color="rgb(41,191,0)"/><stop offset="0.1109" stop-color="rgb(39,229,0)"/><stop offset="0.1194" stop-color="rgb(81,204,0)"/><stop offset="0.1279" stop-color="rgb(140,147,0)"/><stop offset="0.1365" stop-color="rgb(189,89,0)"/><stop offset="0.1450" stop-color="rgb(206,66,0)"/><stop offset="0.1577" stop-color="rgb(211,51,0)"/><stop offset="0.1705" stop-color="rgb(207,38,0)"/><stop offset="0.1833" stop-color="rgb(198,28,0)"/><stop offset="0.1960" stop-color="rgb(190,22,0)"/><stop offset="0.2088" stop-color="rgb(188,17,0)"/><stop offset="0.2216" stop-color="rgb(186,15,0)"/><stop offset="0.2404" stop-color="rgb(186,13,0)"/><stop offset="0.2702" stop-color="rgb(186,13,0)"/><stop offset="0.3979" stop-color="rgb(184,13,0)"/><stop offset="0.5894" stop-color="rgb(181,12,0)"/><stop offset="0.7809" stop-color="rgb(179,11,0)"/><stop offset="0.9734" stop-color="rgb(177,11,0)"/></linearGradient><linearGradient id="g26" gradientUnits="userSpaceOnUse" x1="73" x2="543" y1="0" y2="0"><stop offset="0.0255" stop-color="rgb(32,0,0)"/><stop offset="0.0574" stop-color="rgb(13,166,0)"/><stop offset="0.0685" stop-color="rgb(31,166,0)"/><stop offset="0.0813" stop-color="rgb(37,166,0)"/><stop offset="0.0941" stop-color="rgb(43,166,0)"/><stop offset="0.1026" stop-color="rgb(41,191,0)"/><stop offset="0.1111" stop-color="rgb(38,230,0)"/><stop offset="0.1196" stop-color="rgb(80,204,0)"/><stop offset="0.1281" stop-color="rgb(141,147,0)"/><stop offset="0.1366" stop-color="rgb(190,89,0)"/><stop offset="0.1451" stop-color="rgb(208,66,0)"/><stop offset="0.1579" stop-color="rgb(213,51,0)"/><stop offset="0.1706" stop-color="rgb(208,38,0)"/><stop offset="0.1834" stop-color="rgb(199,28,0)"/><stop offset="0.1962" stop-color="rgb(191,22,0)"/><stop offset="0.2089" stop-color="rgb(188,17,0)"/><stop offset="0.2217" stop-color="rgb(186,15,0)"/><stop offset="0.2404" stop-color="rgb(186,13,0)"/><stop offset="0.2702" stop-color="rgb(186,13,0)"/><stop offset="0.3979" stop-color="rgb(184,13,0)"/><stop offset="0.5894" stop-color="rgb(181,12,0)"/><stop offset="0.7809" stop-color="rgb(179,11,0)"/><stop offset="0.9734" stop-color="rgb(177,11,0)"/></linearGradient><linearGradient id="g27" gradientUnits="userSpaceOnUse" x1="73" x2="543" y1="0" y2="0"><stop offset="0.0255" stop-color="rgb(32,0,0)"/><stop offset="0.0574" stop-color="rgb(13,166,0)"/><stop offset="0.0687" stop-color="rgb(31,166,0)"/><stop offset="0.0814" stop-color="rgb(37,166,0)"/><stop offset="0.0942" stop-color="rgb(43,166,0)"/><stop offset="0.1027" stop-color="rgb(41,191,0)"/><stop offset="0.1112" stop-color="rgb(38,230,0)"/><stop offset="0.1197" stop-color="rgb(80,204,0)"/><stop offset="0.1282" stop-color="rgb(140,147,0)"/><stop offset="0.1368" stop-color="rgb(189,89,0)"/><stop offset="0.1453" stop-color="rgb(207,66,0)"/><stop offset="0.1580" stop-color="rgb(212,51,0)"/><stop offset="0.1708" stop-color="rgb(207,38,0)"/><stop offset="0.1836" stop-color="rgb(199,28,0)"/><stop offset="0.1963" stop-color="rgb(191,22,0)"/><stop offset="0.2091" stop-color="rgb(188,17,0)"/><stop offset="0.2219" stop-color="rgb(186,15,0)"/><stop offset="0.2404" stop-color="rgb(186,13,0)"/><stop offset="0.2702" stop-color="rgb(186,13,0)"/><stop offset="0.3979" stop-color="rgb(184,13,0)"/><stop offset="0.5894" stop-color="rgb(181,12,0)"/><stop offset="0.7809" stop-color="rgb(179,11,0)"/><stop offset="0.9734" stop-color="rgb(177,11,0)"/></linearGradient><linearGradient id="g28" gradientUnits="userSpaceOnUse" x1="73" x2="543" y1="0" y2="0"><stop offset="0.0255" stop-color="rgb(32,0,0)"/><stop offset="0.0574" stop-color="rgb(13,166,0)"/><stop offset="0.0688" stop-color="rgb(31,166,0)"/><stop offset="0.0816" stop-color="rgb(37,166,0)"/><stop offset="0.0943" stop-color="rgb(43,166,0)"/><stop offset="0.1029" stop-color="rgb(41,191,0)"/><stop offset="0.1114" stop-color="rgb(37,230,0)"/><stop offset="0.1199" stop-color="rgb(79,204,0)"/><stop offset="0.1284" stop-color="rgb(138,147,0)"/><stop offset="0.1369" stop-color="rgb(187,89,0)"/><stop offset="0.1454" stop-color="rgb(205,66,0)"/><stop offset="0.1582" stop-color="rgb(210,51,0)"/><stop offset="0.1709" stop-color="rgb(206,38,0)"/><stop offset="0.1837" stop-color="rgb(198,28,0)"/><stop offset="0.1965" stop-color="rgb(190,22,0)"/><stop offset="0.2092" stop-color="rgb(188,17,0)"/><stop offset="0.2220" stop-color="rgb(186,15,0)"/><stop offset="0.2404" stop-color="rgb(186,13,0)"/><stop offset="0.2702" stop-color="rgb(186,13,0)"/><stop offset="0.3979" stop-color="rgb(184,13,0)"/><stop offset="0.5894" stop-color="rgb(181,12,0)"/><stop offset="0.7809" stop-color="rgb(179,11,0)"/><stop offset="0.9734" stop-color="rgb(177,11,0)"/></linearGradient><linearGradient id="g29" gradientUnits="userSpaceOnUse" x1="73" x2="543" y1="0" y2="0"><stop offset="0.0255" stop-color="rgb(32,0,0)"/><stop offset="0.0574" stop-color="rgb(13,166,0)"/><stop offset="0.0690" stop-color="rgb(31,166,0)"/><stop offset="0.0817" stop-color="rgb(37,166,0)"/><stop offset="0.0945" stop-color="rgb(43,166,0)"/><stop offset="0.1030" stop-color="rgb(41,191,0)"/><stop offset="0.1115" stop-color="rgb(36,230,0)"/><stop offset="0.1200" stop-color="rgb(77,204,0)"/><stop offset="0.1285" stop-color="rgb(136,147,0)"/><stop offset="0.1370" stop-color="rgb(184,89,0)"/><stop offset="0.1456" stop-color="rgb(202,66,0)"/><stop offset="0.1583" stop-color="rgb(207,51,0)"/><stop offset="0.1711" stop-color="rgb(204,38,0)"/><stop offset="0.1838" stop-color="rgb(197,28,0)"/><stop offset="0.1966" stop-color="rgb(190,22,0)"/><stop offset="0.2094" stop-color="rgb(188,17,0)"/><stop offset="0.2221" stop-color="rgb(186,15,0)"/><stop offset="0.2404" stop-color="rgb(186,13,0)"/><stop offset="0.2702" stop-color="rgb(186,13,0)"/><stop offset="0.3979" stop-color="rgb(184,13,0)"/><stop offset="0.5894" stop-color="rgb(181,12,0)"/><stop offset="0.7809" stop-color="rgb(179,11,0)"/><stop offset="0.9734" stop-color="rgb(177,11,0)"/></linearGradient><linearGradient id="g30" gradientUnits="userSpaceOnUse" x1="73" x2="543" y1="0" y2="0"><stop offset="0.0255" stop-color="rgb(32,0,0)"/><stop offset="0.0574" stop-color="rgb(13,166,0)"/><stop offset="0.0691" stop-color="rgb(31,166,0)"/><stop offset="0.0819" stop-color="rgb(37,166,0)"/><stop offset="0.0946" stop-color="rgb(43,166,0)"/><stop offset="0.1031" stop-color="rgb(41,191,0)"/><stop offset="0.1117" stop-color="rgb(35,230,0)"/><stop offset="0.1202" stop-color="rgb(76,204,0)"/><stop offset="0.1287" stop-color="rgb(133,147,0)"/><stop offset="0.1372" stop-color="rgb(181,89,0)"/><stop offset="0.1457" stop-color="rgb(199,66,0)"/><stop offset="0.1585" stop-color="rgb(204,51,0)"/><stop offset="0.1712" stop-color="rgb(201,38,0)"/><stop offset="0.1840" stop-color="rgb(195,28,0)"/><stop offset="0.1968" stop-color="rgb(190,22,0)"/><stop offset="0.2095" stop-color="rgb(188,17,0)"/><stop offset="0.2223" stop-color="rgb(186,15,0)"/><stop offset="0.2404" stop-color="rgb(186,13,0)"/><stop offset="0.2702" stop-color="rgb(186,13,0)"/><stop offset="0.3979" stop-color="rgb(184,13,0)"/><stop offset="0.5894" stop-color="rgb(181,12,0)"/><stop offset="0.7809" stop-color="rgb(179,11,0)"/><stop offset="0.9734" stop-color="rgb(177,11,0)"/></linearGradient><linearGradient id="g31" gradientUnits="userSpaceOnUse" x1="73" x2="543" y1="0" y2="0"><stop offset="0.0255" stop-color="rgb(32,0,0)"/><stop offset="0.0574" stop-color="rgb(13,166,0)"/><stop offset="0.0692" stop-color="rgb(31,166,0)"/><stop offset="0.0820" stop-color="rgb(37,166,0)"/><stop offset="0.0948" stop-color="rgb(43,166,0)"/><stop offset="0.1033" stop-color="rgb(41,191,0)"/><stop offset="0.1118" stop-color="rgb(34,230,0)"/><stop offset="0.1203" stop-color="rgb(74,204,0)"/><stop offset="0.1288" stop-color="rgb(130,147,0)"/><stop offset="0.1373" stop-color="rgb(178,89,0)"/><stop offset="0.1458" stop-color="rgb(195,66,0)"/><stop offset="0.1586" stop-color="rgb(201,51,0)"/><stop offset="0.1714" stop-color="rgb(199,38,0)"/><stop offset="0.1841" stop-color="rgb(194,28,0)"/><stop offset="0.1969" stop-color="rgb(189,22,0)"/><stop offset="0.2097" stop-color="rgb(187,17,0)"/><stop offset="0.2224" stop-color="rgb(186,15,0)"/><stop offset="0.2404" stop-color="rgb(186,13,0)"/><stop offset="0.2702" stop-color="rgb(186,13,0)"/><stop offset="0.3979" stop-color="rgb(184,13,0)"/><stop offset="0.5894" stop-color="rgb(181,12,0)"/><stop offset="0.7809" stop-color="rgb(179,11,0)"/><stop offset="0.9734" stop-color="rgb(177,11,0)"/></linearGradient><linearGradient id="g32" gradientUnits="userSpaceOnUse" x1="73" x2="543" y1="0" y2="0"><stop offset="0.0255" stop-color="rgb(32,0,0)"/><stop offset="0.0574" stop-color="rgb(13,166,0)"/><stop offset="0.0694" stop-color="rgb(31,166,0)"/><stop offset="0.0822" stop-color="rgb(37,166,0)"/><stop offset="0.0949" stop-color="rgb(43,166,0)"/><stop offset="0.1034" stop-color="rgb(41,191,0)"/><stop offset="0.1119" stop-color="rgb(33,230,0)"/><stop offset="0.1205" stop-color="rgb(72,204,0)"/><stop offset="0.1290" stop-color="rgb(127,147,0)"/><stop offset="0.1375" stop-color="rgb(175,89,0)"/><stop offset="0.1460" stop-color="rgb(192,66,0)"/><stop offset="0.1588" stop-color="rgb(197,51,0)"/><stop offset="0.1715" stop-color="rgb(196,38,0)"/><stop offset="0.1843" stop-color="rgb(193,28,0)"/><stop offset="0.1971" stop-color="rgb(189,22,0)"/><stop offset="0.2098" stop-color="rgb(187,17,0)"/><stop offset="0.2226" stop-color="rgb(186,15,0)"/><stop offset="0.2404" stop-color="rgb(186,13,0)"/><stop offset="0.2702" stop-color="rgb(186,13,0)"/><stop offset="0.3979" stop-color="rgb(184,13,0)"/><stop offset="0.5894" stop-color="rgb(181,12,0)"/><stop offset="0.7809" stop-color="rgb(179,11,0)"/><stop offset="0.9734" stop-color="rgb(177,11,0)"/></linearGradient><linearGradient id="g33" gradientUnits="userSpaceOnUse" x1="73" x2="543" y1="0" y2="0"><stop offset="0.0255" stop-color="rgb(32,0,0)"/><stop offset="0.0574" stop-color="rgb(13,166,0)"/><stop offset="0.0695" stop-color="rgb(31,166,0)"/><stop offset="0.0823" stop-color="rgb(37,166,0)"/><stop offset="0.0951" stop-color="rgb(43,166,0)"/><stop offset="0.1036" stop-color="rgb(41,191,0)"/><stop offset="0.1121" stop-color="rgb(32,230,0)"/><stop offset="0.1206" stop-color="rgb(71,204,0)"/><stop offset="0.1291" stop-color="rgb(125,147,0)"/><stop offset="0.1376" stop-color="rgb(172,89,0)"/><stop offset="0.1461" stop-color="rgb(190,66,0)"/><stop offset="0.1589" stop-color="rgb(195,51,0)"/><stop offset="0.1717" stop-color="rgb(195,38,0)"/><stop offset="0.1844" stop-color="rgb(192,28,0)"/><stop offset="0.1972" stop-color="rgb(189,22,0)"/><stop offset="0.2100" stop-color="rgb(187,17,0)"/><stop offset="0.2227" stop-color="rgb(186,15,0)"/><stop offset="0.2404" stop-color="rgb(186,13,0)"/><stop offset="0.2702" stop-color="rgb(186,13,0)"/><stop offset="0.3979" stop-color="rgb(184,13,0)"/><stop offset="0.5894" stop-color="rgb(181,12,0)"/><stop offset="0.7809" stop-color="rgb(179,11,0)"/><stop offset="0.9734" stop-color="rgb(177,11,0)"/></linearGradient><linearGradient id="g34" gradientUnits="userSpaceOnUse" x1="73" x2="543" y1="0" y2="0"><stop offset="0.0255" stop-color="rgb(32,0,0)"/><stop offset="0.0574" stop-color="rgb(13,166,0)"/><stop offset="0.0697" stop-color="rgb(31,166,0)"/><stop offset="0.0824" stop-color="rgb(37,166,0)"/><stop offset="0.0952" stop-color="rgb(43,166,0)"/><stop offset="0.1037" stop-color="rgb(41,191,0)"/><stop offset="0.1122" stop-color="rgb(32,230,0)"/><stop offset="0.1207" stop-color="rgb(70,204,0)"/><stop offset="0.1293" stop-color="rgb(124,147,0)"/><stop offset="0.1378" stop-color="rgb(171,89,0)"/><stop offset="0.1463" stop-color="rgb(189,66,0)"/><stop offset="0.1590" stop-color="rgb(194,51,0)"/><stop offset="0.1718" stop-color="rgb(194,38,0)"/><stop offset="0.1846" stop-color="rgb(192,28,0)"/><stop offset="0.1973" stop-color="rgb(188,22,0)"/><stop offset="0.2101" stop-color="rgb(187,17,0)"/><stop offset="0.2229" stop-color="rgb(186,15,0)"/><stop offset="0.2404" stop-color="rgb(186,13,0)"/><stop offset="0.2702" stop-color="rgb(186,13,0)"/><stop offset="0.3979" stop-color="rgb(184,13,0)"/><stop offset="0.5894" stop-color="rgb(181,12,0)"/><stop offset="0.7809" stop-color="rgb(179,11,0)"/><stop offset="0.9734" stop-color="rgb(177,11,0)"/></linearGradient><linearGradient id="g35" gradientUnits="userSpaceOnUse" x1="73" x2="543" y1="0" y2="0"><stop offset="0.0255" stop-color="rgb(32,0,0)"/><stop offset="0.0574" stop-color="rgb(13,166,0)"/><stop offset="0.0698" stop-color="rgb(31,166,0)"/><stop offset="0.0826" stop-color="rgb(37,166,0)"/><stop offset="0.0954" stop-color="rgb(43,166,0)"/><stop offset="0.1039" stop-color="rgb(41,191,0)"/><stop offset="0.1124" stop-color="rgb(32,230,0)"/><stop offset="0.1209" stop-color="rgb(70,204,0)"/><stop offset="0.1294" stop-color="rgb(124,147,0)"/><stop offset="0.1379" stop-color="rgb(171,89,0)"/><stop offset="0.1464" stop-color="rgb(189,66,0)"/><stop offset="0.1592" stop-color="rgb(194,51,0)"/><stop offset="0.1720" stop-color="rgb(194,38,0)"/><stop offset="0.1847" stop-color="rgb(191,28,0)"/><stop offset="0.1975" stop-color="rgb(188,22,0)"/><stop offset="0.2103" stop-color="rgb(187,17,0)"/><stop offset="0.2230" stop-color="rgb(186,15,0)"/><stop offset="0.2404" stop-color="rgb(186,13,0)"/><stop offset="0.2702" stop-color="rgb(186,13,0)"/><stop offset="0.3979" stop-color="rgb(184,13,0)"/><stop offset="0.5894" stop-color="rgb(181,12,0)"/><stop offset="0.7809" stop-color="rgb(179,11,0)"/><stop offset="0.9734" stop-color="rgb(177,11,0)"/></linearGradient><linearGradient id="g36" gradientUnits="userSpaceOnUse" x1="73" x2="543" y1="0" y2="0"><stop offset="0.0255" stop-color="rgb(32,0,0)"/><stop offset="0.0574" stop-color="rgb(13,166,0)"/><stop offset="0.0700" stop-color="rgb(31,166,0)"/><stop offset="0.0827" stop-color="rgb(37,166,0)"/><stop offset="0.0955" stop-color="rgb(43,166,0)"/><stop offset="0.1040" stop-color="rgb(41,191,0)"/><stop offset="0.1125" stop-color="rgb(32,230,0)"/><stop offset="0.1210" stop-color="rgb(69,204,0)"/><stop offset="0.1295" stop-color="rgb(123,147,0)"/><stop offset="0.1381" stop-color="rgb(170,89,0)"/><stop offset="0.1466" stop-color="rgb(188,66,0)"/><stop offset="0.1593" stop-color="rgb(193,51,0)"/><stop offset="0.1721" stop-color="rgb(193,38,0)"/><stop offset="0.1849" stop-color="rgb(191,28,0)"/><stop offset="0.1976" stop-color="rgb(188,22,0)"/><stop offset="0.2104" stop-color="rgb(187,17,0)"/><stop offset="0.2232" stop-color="rgb(186,15,0)"/><stop offset="0.2404" stop-color="rgb(186,13,0)"/><stop offset="0.2702" stop-color="rgb(186,13,0)"/><stop offset="0.3979" stop-color="rgb(184,13,0)"/><stop offset="0.5894" stop-color="rgb(181,12,0)"/><stop offset="0.7809" stop-color="rgb(179,11,0)"/><stop offset="0.9734" stop-color="rgb(177,11,0)"/></linearGradient><linearGradient id="g37" gradientUnits="userSpaceOnUse" x1="73" x2="543" y1="0" y2="0"><stop offset="0.0255" stop-color="rgb(32,0,0)"/><stop offset="0.0574" stop-color="rgb(13,166,0)"/><stop offset="0.0701" stop-color="rgb(31,166,0)"/><stop offset="0.0829" stop-color="rgb(37,166,0)"/><stop offset="0.0956" stop-color="rgb(43,166,0)"/><stop offset="0.1042" stop-color="rgb(41,191,0)"/><stop offset="0.1127" stop-color="rgb(31,230,0)"/><stop offset="0.1212" stop-color="rgb(68,204,0)"/><stop offset="0.1297" stop-color="rgb(122,147,0)"/><stop offset="0.1382" stop-color="rgb(168,89,0)"/><stop offset="0.1467" stop-color="rgb(187,66,0)"/><stop offset="0.1595" stop-color="rgb(192,51,0)"/><stop offset="0.1722" stop-color="rgb(193,38,0)"/><stop offset="0.1850" stop-color="rgb(191,28,0)"/><stop offset="0.1978" stop-color="rgb(188,22,0)"/><stop offset="0.2105" stop-color="rgb(187,17,0)"/><stop offset="0.2233" stop-color="rgb(186,15,0)"/><stop offset="0.2404" stop-color="rgb(186,13,0)"/><stop offset="0.2702" stop-color="rgb(186,13,0)"/><stop offset="0.3979" stop-color="rgb(184,13,0)"/><stop offset="0.5894" stop-color="rgb(181,12,0)"/><stop offset="0.7809" stop-color="rgb(179,11,0)"/><stop offset="0.9734" stop-color="rgb(177,11,0)"/></linearGradient><linearGradient id="g38" gradientUnits="userSpaceOnUse" x1="73" x2="543" y1="0" y2="0"><stop offset="0.0255" stop-color="rgb(32,0,0)"/><stop offset="0.0574" stop-color="rgb(13,166,0)"/><stop offset="0.0703" stop-color="rgb(31,166,0)"/><stop offset="0.0830" stop-color="rgb(37,166,0)"/><stop offset="0.0958" stop-color="rgb(43,166,0)"/><stop offset="0.1043" stop-color="rgb(41,191,0)"/><stop offset="0.1128" stop-color="rgb(31,229,0)"/><stop offset="0.1213" stop-color="rgb(67,204,0)"/><stop offset="0.1298" stop-color="rgb(120,147,0)"/><stop offset="0.1383" stop-color="rgb(167,89,0)"/><stop offset="0.1469" stop-color="rgb(185,66,0)"/><stop offset="0.1596" stop-color="rgb(191,51,0)"/><stop offset="0.1724" stop-color="rgb(192,38,0)"/><stop offset="0.1852" stop-color="rgb(191,28,0)"/><stop offset="0.1979" stop-color="rgb(188,22,0)"/><stop offset="0.2107" stop-color="rgb(187,17,0)"/><stop offset="0.2235" stop-color="rgb(186,15,0)"/><stop offset="0.2404" stop-color="rgb(186,13,0)"/><stop offset="0.2702" stop-color="rgb(186,13,0)"/><stop offset="0.3979" stop-color="rgb(184,13,0)"/><stop offset="0.5894" stop-color="rgb(181,12,0)"/><stop offset="0.7809" stop-color="rgb(179,11,0)"/><stop offset="0.9734" stop-color="rgb(177,11,0)"/></linearGradient><linearGradient id="g39" gradientUnits="userSpaceOnUse" x1="73" x2="543" y1="0" y2="0"><stop offset="0.0255" stop-color="rgb(32,0,0)"/><stop offset="0.0574" stop-color="rgb(13,166,0)"/><stop offset="0.0704" stop-color="rgb(31,166,0)"/><stop offset="0.0832" stop-color="rgb(37,166,0)"/><stop offset="0.0959" stop-color="rgb(43,166,0)"/><stop offset="0.1044" stop-color="rgb(41,191,0)"/><stop offset="0.1130" stop-color="rgb(30,229,0)"/><stop offset="0.1215" stop-color="rgb(66,204,0)"/><stop offset="0.1300" stop-color="rgb(118,147,0)"/><stop offset="0.1385" stop-color="rgb(165,89,0)"/><stop offset="0.1470" stop-color="rgb(183,66,0)"/><stop offset="0.1598" stop-color="rgb(190,51,0)"/><stop offset="0.1725" stop-color="rgb(192,38,0)"/><stop offset="0.1853" stop-color="rgb(190,28,0)"/><stop offset="0.1981" stop-color="rgb(188,22,0)"/><stop offset="0.2108" stop-color="rgb(187,17,0)"/><stop offset="0.2236" stop-color="rgb(186,15,0)"/><stop offset="0.2404" stop-color="rgb(186,13,0)"/><stop offset="0.2702" stop-color="rgb(186,13,0)"/><stop offset="0.3979" stop-color="rgb(184,13,0)"/><stop offset="0.5894" stop-color="rgb(181,12,0)"/><stop offset="0.7809" stop-color="rgb(179,11,0)"/><stop offset="0.9734" stop-color="rgb(177,11,0)"/></linearGradient><linearGradient id="g40" gradientUnits="userSpaceOnUse" x1="73" x2="543" y1="0" y2="0"><stop offset="0.0255" stop-color="rgb(32,0,0)"/><stop offset="0.0574" stop-color="rgb(13,166,0)"/><stop offset="0.0706" stop-color="rgb(31,166,0)"/><stop offset="0.0833" stop-color="rgb(37,166,0)"/><stop offset="0.0961" stop-color="rgb(43,166,0)"/><stop offset="0.1046" stop-color="rgb(41,191,0)"/><stop offset="0.1131" stop-color="rgb(30,230,0)"/><stop offset="0.1216" stop-color="rgb(64,204,0)"/><stop offset="0.1301" stop-color="rgb(117,147,0)"/><stop offset="0.1386" stop-color="rgb(163,89,0)"/><stop offset="0.1471" stop-color="rgb(182,66,0)"/><stop offset="0.1599" stop-color="rgb(189,51,0)"/><stop offset="0.1727" stop-color="rgb(191,38,0)"/><stop offset="0.1854" stop-color="rgb(190,28,0)"/><stop offset="0.1982" stop-color="rgb(188,22,0)"/><stop offset="0.2110" stop-color="rgb(187,17,0)"/><stop offset="0.2237" stop-color="rgb(186,15,0)"/><stop offset="0.2404" stop-color="rgb(186,13,0)"/><stop offset="0.2702" stop-color="rgb(186,13,0)"/><stop offset="0.3979" stop-color="rgb(184,13,0)"/><stop offset="0.5894" stop-color="rgb(181,12,0)"/><stop offset="0.7809" stop-color="rgb(179,11,0)"/><stop offset="0.9734" stop-color="rgb(177,11,0)"/></linearGradient><linearGradient id="g41" gradientUnits="userSpaceOnUse" x1="73" x2="543" y1="0" y2="0"><stop offset="0.0255" stop-color="rgb(32,0,0)"/><stop offset="0.0574" stop-color="rgb(13,166,0)"/><stop offset="0.0707" stop-color="rgb(31,166,0)"/><stop offset="0.0835" stop-color="rgb(37,166,0)"/><stop offset="0.0962" stop-color="rgb(43,166,0)"/><stop offset="0.1047" stop-color="rgb(41,191,0)"/><stop offset="0.1132" stop-color="rgb(30,230,0)"/><stop offset="0.1218" stop-color="rgb(63,204,0)"/><stop offset="0.1303" stop-color="rgb(115,147,0)"/><stop offset="0.1388" stop-color="rgb(162,89,0)"/><stop offset="0.1473" stop-color="rgb(181,66,0)"/><stop offset="0.1601" stop-color="rgb(188,51,0)"/><stop offset="0.1728" stop-color="rgb(190,38,0)"/><stop offset="0.1856" stop-color="rgb(190,28,0)"/><stop offset="0.1984" stop-color="rgb(188,22,0)"/><stop offset="0.2111" stop-color="rgb(187,17,0)"/><stop offset="0.2239" stop-color="rgb(186,15,0)"/><stop offset="0.2404" stop-color="rgb(186,13,0)"/><stop offset="0.2702" stop-color="rgb(186,13,0)"/><stop offset="0.3979" stop-color="rgb(184,13,0)"/><stop offset="0.5894" stop-color="rgb(181,12,0)"/><stop offset="0.7809" stop-color="rgb(179,11,0)"/><stop offset="0.9734" stop-color="rgb(177,11,0)"/></linearGradient><linearGradient id="g42" gradientUnits="userSpaceOnUse" x1="73" x2="543" y1="0" y2="0"><stop offset="0.0255" stop-color="rgb(32,0,0)"/><stop offset="0.0574" stop-color="rgb(13,166,0)"/><stop offset="0.0708" stop-color="rgb(31,166,0)"/><stop offset="0.0836" stop-color="rgb(37,166,0)"/><stop offset="0.0964" stop-color="rgb(43,166,0)"/><stop offset="0.1049" stop-color="rgb(41,191,0)"/><stop offset="0.1134" stop-color="rgb(29,230,0)"/><stop offset="0.1219" stop-color="rgb(63,204,0)"/><stop offset="0.1304" stop-color="rgb(114,147,0)"/><stop offset="0.1389" stop-color="rgb(161,89,0)"/><stop offset="0.1474" stop-color="rgb(180,66,0)"/><stop offset="0.1602" stop-color="rgb(188,51,0)"/><stop offset="0.1730" stop-color="rgb(190,38,0)"/><stop offset="0.1857" stop-color="rgb(190,28,0)"/><stop offset="0.1985" stop-color="rgb(188,22,0)"/><stop offset="0.2113" stop-color="rgb(187,17,0)"/><stop offset="0.2240" stop-color="rgb(186,15,0)"/><stop offset="0.2404" stop-color="rgb(186,13,0)"/><stop offset="0.2702" stop-color="rgb(186,13,0)"/><stop offset="0.3979" stop-color="rgb(184,13,0)"/><stop offset="0.5894" stop-color="rgb(181,12,0)"/><stop offset="0.7809" stop-color="rgb(179,11,0)"/><stop offset="0.9734" stop-color="rgb(177,11,0)"/></linearGradient><linearGradient id="g43" gradientUnits="userSpaceOnUse" x1="73" x2="543" y1="0" y2="0"><stop offset="0.0255" stop-color="rgb(32,0,0)"/><stop offset="0.0574" stop-color="rgb(13,166,0)"/><stop offset="0.0710" stop-color="rgb(31,166,0)"/><stop offset="0.0838" stop-color="rgb(37,166,0)"/><stop offset="0.0965" stop-color="rgb(43,166,0)"/><stop offset="0.1050" stop-color="rgb(41,191,0)"/><stop offset="0.1135" stop-color="rgb(29,230,0)"/><stop offset="0.1221" stop-color="rgb(62,204,0)"/><stop offset="0.1306" stop-color="rgb(114,147,0)"/><stop offset="0.1391" stop-color="rgb(161,89,0)"/><stop offset="0.1476" stop-color="rgb(180,66,0)"/><stop offset="0.1603" stop-color="rgb(187,51,0)"/><stop offset="0.1731" stop-color="rgb(190,38,0)"/><stop offset="0.1859" stop-color="rgb(190,28,0)"/><stop offset="0.1986" stop-color="rgb(188,22,0)"/><stop offset="0.2114" stop-color="rgb(187,17,0)"/><stop offset="0.2242" stop-color="rgb(186,15,0)"/><stop offset="0.2404" stop-color="rgb(186,13,0)"/><stop offset="0.2702" stop-color="rgb(186,13,0)"/><stop offset="0.3979" stop-color="rgb(184,13,0)"/><stop offset="0.5894" stop-color="rgb(181,12,0)"/><stop offset="0.7809" stop-color="rgb(179,11,0)"/><stop offset="0.9734" stop-color="rgb(177,11,0)"/></linearGradient><linearGradient id="g44" gradientUnits="userSpaceOnUse" x1="73" x2="543" y1="0" y2="0"><stop offset="0.0255" stop-color="rgb(32,0,0)"/><stop offset="0.0574" stop-color="rgb(13,166,0)"/><stop offset="0.0711" stop-color="rgb(31,166,0)"/><stop offset="0.0839" stop-color="rgb(37,166,0)"/><stop offset="0.0967" stop-color="rgb(43,166,0)"/><stop offset="0.1052" stop-color="rgb(41,191,0)"/><stop offset="0.1137" stop-color="rgb(29,230,0)"/><stop offset="0.1222" stop-color="rgb(62,204,0)"/><stop offset="0.1307" stop-color="rgb(114,147,0)"/><stop offset="0.1392" stop-color="rgb(160,89,0)"/><stop offset="0.1477" stop-color="rgb(180,66,0)"/><stop offset="0.1605" stop-color="rgb(187,51,0)"/><stop offset="0.1733" stop-color="rgb(190,38,0)"/><stop offset="0.1860" stop-color="rgb(190,28,0)"/><stop offset="0.1988" stop-color="rgb(188,22,0)"/><stop offset="0.2116" stop-color="rgb(187,17,0)"/><stop offset="0.2243" stop-color="rgb(186,15,0)"/><stop offset="0.2404" stop-color="rgb(186,13,0)"/><stop offset="0.2702" stop-color="rgb(186,13,0)"/><stop offset="0.3979" stop-color="rgb(184,13,0)"/><stop offset="0.5894" stop-color="rgb(181,12,0)"/><stop offset="0.7809" stop-color="rgb(179,11,0)"/><stop offset="0.9734" stop-color="rgb(177,11,0)"/></linearGradient><linearGradient id="g45" gradientUnits="userSpaceOnUse" x1="73" x2="543" y1="0" y2="0"><stop offset="0.0255" stop-color="rgb(32,0,0)"/><stop offset="0.0574" stop-color="rgb(13,166,0)"/><stop offset="0.0713" stop-color="rgb(31,166,0)"/><stop offset="0.0840" stop-color="rgb(37,166,0)"/><stop offset="0.0968" stop-color="rgb(43,166,0)"/><stop offset="0.1053" stop-color="rgb(41,191,0)"/><stop offset="0.1138" stop-color="rgb(29,229,0)"/><stop offset="0.1223" stop-color="rgb(62,204,0)"/><stop offset="0.1309" stop-color="rgb(114,147,0)"/><stop offset="0.1394" stop-color="rgb(160,89,0)"/><stop offset="0.1479" stop-color="rgb(179,66,0)"/><stop offset="0.1606" stop-color="rgb(187,51,0)"/><stop offset="0.1734" stop-color="rgb(190,38,0)"/><stop offset="0.1862" stop-color="rgb(190,28,0)"/><stop offset="0.1989" stop-color="rgb(188,22,0)"/><stop offset="0.2117" stop-color="rgb(187,17,0)"/><stop offset="0.2245" stop-color="rgb(186,15,0)"/><stop offset="0.2404" stop-color="rgb(186,13,0)"/><stop offset="0.2702" stop-color="rgb(186,13,0)"/><stop offset="0.3979" stop-color="rgb(184,13,0)"/><stop offset="0.5894" stop-color="rgb(181,12,0)"/><stop offset="0.7809" stop-color="rgb(179,11,0)"/><stop offset="0.9734" stop-color="rgb(177,11,0)"/></linearGradient><linearGradient id="g46" gradientUnits="userSpaceOnUse" x1="73" x2="543" y1="0" y2="0"><stop offset="0.0255" stop-color="rgb(32,0,0)"/><stop offset="0.0574" stop-color="rgb(13,166,0)"/><stop offset="0.0714" stop-color="rgb(31,166,0)"/><stop offset="0.0842" stop-color="rgb(37,166,0)"/><stop offset="0.0970" stop-color="rgb(43,166,0)"/><stop offset="0.1055" stop-color="rgb(41,191,0)"/><stop offset="0.1140" stop-color="rgb(29,230,0)"/><stop offset="0.1225" stop-color="rgb(62,204,0)"/><stop offset="0.1310" stop-color="rgb(113,147,0)"/><stop offset="0.1395" stop-color="rgb(160,89,0)"/><stop offset="0.1480" stop-color="rgb(179,66,0)"/><stop offset="0.1608" stop-color="rgb(187,51,0)"/><stop offset="0.1735" stop-color="rgb(190,38,0)"/><stop offset="0.1863" stop-color="rgb(189,28,0)"/><stop offset="0.1991" stop-color="rgb(188,22,0)"/><stop offset="0.2118" stop-color="rgb(187,17,0)"/><stop offset="0.2246" stop-color="rgb(186,15,0)"/><stop offset="0.2404" stop-color="rgb(186,13,0)"/><stop offset="0.2702" stop-color="rgb(186,13,0)"/><stop offset="0.3979" stop-color="rgb(184,13,0)"/><stop offset="0.5894" stop-color="rgb(181,12,0)"/><stop offset="0.7809" stop-color="rgb(179,11,0)"/><stop offset="0.9734" stop-color="rgb(177,11,0)"/></linearGradient><linearGradient id="g47" gradientUnits="userSpaceOnUse" x1="73" x2="543" y1="0" y2="0"><stop offset="0.0255" stop-color="rgb(32,0,0)"/><stop offset="0.0574" stop-color="rgb(13,166,0)"/><stop offset="0.0716" stop-color="rgb(31,166,0)"/><stop offset="0.0843" stop-color="rgb(37,166,0)"/><stop offset="0.0971" stop-color="rgb(43,166,0)"/><stop offset="0.1056" stop-color="rgb(41,191,0)"/><stop offset="0.1141" stop-color="rgb(29,230,0)"/><stop offset="0.1226" stop-color="rgb(61,204,0)"/><stop offset="0.1311" stop-color="rgb(113,147,0)"/><stop offset="0.1397" stop-color="rgb(159,89,0)"/><stop offset="0.1482" stop-color="rgb(178,66,0)"/><stop offset="0.1609" stop-color="rgb(186,51,0)"/><stop offset="0.1737" stop-color="rgb(189,38,0)"/><stop offset="0.1865" stop-color="rgb(189,28,0)"/><stop offset="0.1992" stop-color="rgb(188,22,0)"/><stop offset="0.2120" stop-color="rgb(187,17,0)"/><stop offset="0.2248" stop-color="rgb(186,15,0)"/><stop offset="0.2404" stop-color="rgb(186,13,0)"/><stop offset="0.2702" stop-color="rgb(186,13,0)"/><stop offset="0.3979" stop-color="rgb(184,13,0)"/><stop offset="0.5894" stop-color="rgb(181,12,0)"/><stop offset="0.7809" stop-color="rgb(179,11,0)"/><stop offset="0.9734" stop-color="rgb(177,11,0)"/></linearGradient><linearGradient id="g48" gradientUnits="userSpaceOnUse" x1="73" x2="543" y1="0" y2="0"><stop offset="0.0255" stop-color="rgb(32,0,0)"/><stop offset="0.0574" stop-color="rgb(13,166,0)"/><stop offset="0.0717" stop-color="rgb(31,166,0)"/><stop offset="0.0845" stop-color="rgb(37,166,0)"/><stop offset="0.0972" stop-color="rgb(43,166,0)"/><stop offset="0.1058" stop-color="rgb(41,191,0)"/><stop offset="0.1143" stop-color="rgb(28,230,0)"/><stop offset="0.1228" stop-color="rgb(61,204,0)"/><stop offset="0.1313" stop-color="rgb(112,147,0)"/><stop offset="0.1398" stop-color="rgb(158,89,0)"/><stop offset="0.1483" stop-color="rgb(178,66,0)"/><stop offset="0.1611" stop-color="rgb(186,51,0)"/><stop offset="0.1738" stop-color="rgb(189,38,0)"/><stop offset="0.1866" stop-color="rgb(189,28,0)"/><stop offset="0.1994" stop-color="rgb(188,22,0)"/><stop offset="0.2121" stop-color="rgb(187,17,0)"/><stop offset="0.2249" stop-color="rgb(186,15,0)"/><stop offset="0.2404" stop-color="rgb(186,13,0)"/><stop offset="0.2702" stop-color="rgb(186,13,0)"/><stop offset="0.3979" stop-color="rgb(184,13,0)"/><stop offset="0.5894" stop-color="rgb(181,12,0)"/><stop offset="0.7809" stop-color="rgb(179,11,0)"/><stop offset="0.9734" stop-color="rgb(177,11,0)"/></linearGradient><linearGradient id="g49" gradientUnits="userSpaceOnUse" x1="73" x2="543" y1="0" y2="0"><stop offset="0.0255" stop-color="rgb(32,0,0)"/><stop offset="0.0574" stop-color="rgb(13,166,0)"/><stop offset="0.0719" stop-color="rgb(31,166,0)"/><stop offset="0.0846" stop-color="rgb(37,166,0)"/><stop offset="0.0974" stop-color="rgb(43,166,0)"/><stop offset="0.1059" stop-color="rgb(41,191,0)"/><stop offset="0.1144" stop-color="rgb(28,230,0)"/><stop offset="0.1229" stop-color="rgb(60,204,0)"/><stop offset="0.1314" stop-color="rgb(111,147,0)"/><stop offset="0.1399" stop-color="rgb(158,89,0)"/><stop offset="0.1485" stop-color="rgb(177,66,0)"/><stop offset="0.1612" stop-color="rgb(185,51,0)"/><stop offset="0.1740" stop-color="rgb(189,38,0)"/><stop offset="0.1868" stop-color="rgb(189,28,0)"/><stop offset="0.1995" stop-color="rgb(188,22,0)"/><stop offset="0.2123" stop-color="rgb(187,17,0)"/><stop offset="0.2250" stop-color="rgb(186,15,0)"/><stop offset="0.2404" stop-color="rgb(186,13,0)"/><stop offset="0.2702" stop-color="rgb(186,13,0)"/><stop offset="0.3979" stop-color="rgb(184,13,0)"/><stop offset="0.5894" stop-color="rgb(181,12,0)"/><stop offset="0.7809" stop-color="rgb(179,11,0)"/><stop offset="0.9734" stop-color="rgb(177,11,0)"/></linearGradient><linearGradient id="g50" gradientUnits="userSpaceOnUse" x1="73" x2="543" y1="0" y2="0"><stop offset="0.0255" stop-color="rgb(32,0,0)"/><stop offset="0.0574" stop-color="rgb(13,166,0)"/><stop offset="0.0720" stop-color="rgb(31,166,0)"/><stop offset="0.0848" stop-color="rgb(37,166,0)"/><stop offset="0.0975" stop-color="rgb(43,166,0)"/><stop offset="0.1060" stop-color="rgb(41,191,0)"/><stop offset="0.1146" stop-color="rgb(28,230,0)"/><stop offset="0.1231" stop-color="rgb(60,204,0)"/><stop offset="0.1316" stop-color="rgb(110,147,0)"/><stop offset="0.1401" stop-color="rgb(157,89,0)"/><stop offset="0.1486" stop-color="rgb(176,66,0)"/><stop offset="0.1614" stop-color="rgb(184,51,0)"/><stop offset="0.1741" stop-color="rgb(189,38,0)"/><stop offset="0.1869" stop-color="rgb(189,28,0)"/><stop offset="0.1997" stop-color="rgb(188,22,0)"/><stop offset="0.2124" stop-color="rgb(187,17,0)"/><stop offset="0.2252" stop-color="rgb(186,15,0)"/><stop offset="0.2404" stop-color="rgb(186,13,0)"/><stop offset="0.2702" stop-color="rgb(186,13,0)"/><stop offset="0.3979" stop-color="rgb(184,13,0)"/><stop offset="0.5894" stop-color="rgb(181,12,0)"/><stop offset="0.7809" stop-color="rgb(179,11,0)"/><stop offset="0.9734" stop-color="rgb(177,11,0)"/></linearGradient><linearGradient id="g51" gradientUnits="userSpaceOnUse" x1="73" x2="543" y1="0" y2="0"><stop offset="0.0255" stop-color="rgb(32,0,0)"/><stop offset="0.0574" stop-color="rgb(13,166,0)"/><stop offset="0.0721" stop-color="rgb(31,166,0)"/><stop offset="0.0849" stop-color="rgb(37,166,0)"/><stop offset="0.0977" stop-color="rgb(43,166,0)"/><stop offset="0.1062" stop-color="rgb(41,191,0)"/><stop offset="0.1147" stop-color="rgb(28,230,0)"/><stop offset="0.1232" stop-color="rgb(59,204,0)"/><stop offset="0.1317" stop-color="rgb(110,147,0)"/><stop offset="0.1402" stop-color="rgb(156,89,0)"/><stop offset="0.1487" stop-color="rgb(175,66,0)"/><stop offset="0.1615" stop-color="rgb(184,51,0)"/><stop offset="0.1743" stop-color="rgb(188,38,0)"/><stop offset="0.1870" stop-color="rgb(189,28,0)"/><stop offset="0.1998" stop-color="rgb(188,22,0)"/><stop offset="0.2126" stop-color="rgb(187,17,0)"/><stop offset="0.2253" stop-color="rgb(186,15,0)"/><stop offset="0.2404" stop-color="rgb(186,13,0)"/><stop offset="0.2702" stop-color="rgb(186,13,0)"/><stop offset="0.3979" stop-color="rgb(184,13,0)"/><stop offset="0.5894" stop-color="rgb(181,12,0)"/><stop offset="0.7809" stop-color="rgb(179,11,0)"/><stop offset="0.9734" stop-color="rgb(177,11,0)"/></linearGradient><linearGradient id="g52" gradientUnits="userSpaceOnUse" x1="73" x2="543" y1="0" y2="0"><stop offset="0.0255" stop-color="rgb(32,0,0)"/><stop offset="0.0574" stop-color="rgb(13,166,0)"/><stop offset="0.0723" stop-color="rgb(31,166,0)"/><stop offset="0.0851" stop-color="rgb(37,166,0)"/><stop offset="0.0978" stop-color="rgb(43,166,0)"/><stop offset="0.1063" stop-color="rgb(41,191,0)"/><stop offset="0.1148" stop-color="rgb(27,229,0)"/><stop offset="0.1234" stop-color="rgb(58,204,0)"/><stop offset="0.1319" stop-color="rgb(109,147,0)"/><stop offset="0.1404" stop-color="rgb(156,89,0)"/><stop offset="0.1489" stop-color="rgb(175,66,0)"/><stop offset="0.1617" stop-color="rgb(183,51,0)"/><stop offset="0.1744" stop-color="rgb(188,38,0)"/><stop offset="0.1872" stop-color="rgb(189,28,0)"/><stop offset="0.2000" stop-color="rgb(188,22,0)"/><stop offset="0.2127" stop-color="rgb(187,17,0)"/><stop offset="0.2255" stop-color="rgb(186,15,0)"/><stop offset="0.2404" stop-color="rgb(186,13,0)"/><stop offset="0.2702" stop-color="rgb(186,13,0)"/><stop offset="0.3979" stop-color="rgb(184,13,0)"/><stop offset="0.5894" stop-color="rgb(181,12,0)"/><stop offset="0.7809" stop-color="rgb(179,11,0)"/><stop offset="0.9734" stop-color="rgb(177,11,0)"/></linearGradient><linearGradient id="g53" gradientUnits="userSpaceOnUse" x1="73" x2="543" y1="0" y2="0"><stop offset="0.0255" stop-color="rgb(32,0,0)"/><stop offset="0.0574" stop-color="rgb(13,166,0)"/><stop offset="0.0724" stop-color="rgb(31,166,0)"/><stop offset="0.0852" stop-color="rgb(37,166,0)"/><stop offset="0.0980" stop-color="rgb(43,166,0)"/><stop offset="0.1065" stop-color="rgb(41,191,0)"/><stop offset="0.1150" stop-color="rgb(27,230,0)"/><stop offset="0.1235" stop-color="rgb(58,204,0)"/><stop offset="0.1320" stop-color="rgb(109,147,0)"/><stop offset="0.1405" stop-color="rgb(155,89,0)"/><stop offset="0.1490" stop-color="rgb(174,66,0)"/><stop offset="0.1618" stop-color="rgb(183,51,0)"/><stop offset="0.1746" stop-color="rgb(188,38,0)"/><stop offset="0.1873" stop-color="rgb(189,28,0)"/><stop offset="0.2001" stop-color="rgb(188,22,0)"/><stop offset="0.2129" stop-color="rgb(187,17,0)"/><stop offset="0.2256" stop-color="rgb(186,15,0)"/><stop offset="0.2404" stop-color="rgb(186,13,0)"/><stop offset="0.2702" stop-color="rgb(186,13,0)"/><stop offset="0.3979" stop-color="rgb(184,13,0)"/><stop offset="0.5894" stop-color="rgb(181,12,0)"/><stop offset="0.7809" stop-color="rgb(179,11,0)"/><stop offset="0.9734" stop-color="rgb(177,11,0)"/></linearGradient><linearGradient id="g54" gradientUnits="userSpaceOnUse" x1="73" x2="543" y1="0" y2="0"><stop offset="0.0255" stop-color="rgb(32,0,0)"/><stop offset="0.0574" stop-color="rgb(13,166,0)"/><stop offset="0.0726" stop-color="rgb(31,166,0)"/><stop offset="0.0853" stop-color="rgb(37,166,0)"/><stop offset="0.0981" stop-color="rgb(43,166,0)"/><stop offset="0.1066" stop-color="rgb(41,191,0)"/><stop offset="0.1151" stop-color="rgb(27,230,0)"/><stop offset="0.1236" stop-color="rgb(58,204,0)"/><stop offset="0.1322" stop-color="rgb(108,147,0)"/><stop offset="0.1407" stop-color="rgb(155,89,0)"/><stop offset="0.1492" stop-color="rgb(174,66,0)"/><stop offset="0.1619" stop-color="rgb(183,51,0)"/><stop offset="0.1747" stop-color="rgb(188,38,0)"/><stop offset="0.1875" stop-color="rgb(189,28,0)"/><stop offset="0.2002" stop-color="rgb(188,22,0)"/><stop offset="0.2130" stop-color="rgb(187,17,0)"/><stop offset="0.2258" stop-color="rgb(186,15,0)"/><stop offset="0.2404" stop-color="rgb(186,13,0)"/><stop offset="0.2702" stop-color="rgb(186,13,0)"/><stop offset="0.3979" stop-color="rgb(184,13,0)"/><stop offset="0.5894" stop-color="rgb(181,12,0)"/><stop offset="0.7809" stop-color="rgb(179,11,0)"/><stop offset="0.9734" stop-color="rgb(177,11,0)"/></linearGradient><linearGradient id="g55" gradientUnits="userSpaceOnUse" x1="73" x2="543" y1="0" y2="0"><stop offset="0.0255" stop-color="rgb(32,0,0)"/><stop offset="0.0574" stop-color="rgb(13,166,0)"/><stop offset="0.0727" stop-color="rgb(31,166,0)"/><stop offset="0.0855" stop-color="rgb(37,166,0)"/><stop offset="0.0983" stop-color="rgb(43,166,0)"/><stop offset="0.1068" stop-color="rgb(41,191,0)"/><stop offset="0.1153" stop-color="rgb(27,230,0)"/><stop offset="0.1238" stop-color="rgb(57,204,0)"/><stop offset="0.1323" stop-color="rgb(108,147,0)"/><stop offset="0.1408" stop-color="rgb(154,89,0)"/><stop offset="0.1493" stop-color="rgb(174,66,0)"/><stop offset="0.1621" stop-color="rgb(182,51,0)"/><stop offset="0.1749" stop-color="rgb(187,38,0)"/><stop offset="0.1876" stop-color="rgb(189,28,0)"/><stop offset="0.2004" stop-color="rgb(188,22,0)"/><stop offset="0.2132" stop-color="rgb(187,17,0)"/><stop offset="0.2259" stop-color="rgb(186,15,0)"/><stop offset="0.2404" stop-color="rgb(186,13,0)"/><stop offset="0.2702" stop-color="rgb(186,13,0)"/><stop offset="0.3979" stop-color="rgb(184,13,0)"/><stop offset="0.5894" stop-color="rgb(181,12,0)"/><stop offset="0.7809" stop-color="rgb(179,11,0)"/><stop offset="0.9734" stop-color="rgb(177,11,0)"/></linearGradient><linearGradient id="g56" gradientUnits="userSpaceOnUse" x1="73" x2="543" y1="0" y2="0"><stop offset="0.0255" stop-color="rgb(32,0,0)"/><stop offset="0.0574" stop-color="rgb(13,166,0)"/><stop offset="0.0729" stop-color="rgb(31,166,0)"/><stop offset="0.0856" stop-color="rgb(37,166,0)"/><stop offset="0.0984" stop-color="rgb(43,166,0)"/><stop offset="0.1069" stop-color="rgb(41,191,0)"/><stop offset="0.1154" stop-color="rgb(27,230,0)"/><stop offset="0.1239" stop-color="rgb(57,204,0)"/><stop offset="0.1324" stop-color="rgb(108,147,0)"/><stop offset="0.1410" stop-color="rgb(154,89,0)"/><stop offset="0.1495" stop-color="rgb(173,66,0)"/><stop offset="0.1622" stop-color="rgb(182,51,0)"/><stop offset="0.1750" stop-color="rgb(187,38,0)"/><stop offset="0.1878" stop-color="rgb(189,28,0)"/><stop offset="0.2005" stop-color="rgb(188,22,0)"/><stop offset="0.2133" stop-color="rgb(187,17,0)"/><stop offset="0.2261" stop-color="rgb(186,15,0)"/><stop offset="0.2404" stop-color="rgb(186,13,0)"/><stop offset="0.2702" stop-color="rgb(186,13,0)"/><stop offset="0.3979" stop-color="rgb(184,13,0)"/><stop offset="0.5894" stop-color="rgb(181,12,0)"/><stop offset="0.7809" stop-color="rgb(179,11,0)"/><stop offset="0.9734" stop-color="rgb(177,11,0)"/></linearGradient><linearGradient id="g57" gradientUnits="userSpaceOnUse" x1="73" x2="543" y1="0" y2="0"><stop offset="0.0255" stop-color="rgb(32,0,0)"/><stop offset="0.0574" stop-color="rgb(13,166,0)"/><stop offset="0.0730" stop-color="rgb(31,166,0)"/><stop offset="0.0858" stop-color="rgb(37,166,0)"/><stop offset="0.0985" stop-color="rgb(43,166,0)"/><stop offset="0.1071" stop-color="rgb(41,191,0)"/><stop offset="0.1156" stop-color="rgb(27,230,0)"/><stop offset="0.1241" stop-color="rgb(58,204,0)"/><stop offset="0.1326" stop-color="rgb(108,147,0)"/><stop offset="0.1411" stop-color="rgb(155,89,0)"/><stop offset="0.1496" stop-color="rgb(174,66,0)"/><stop offset="0.1624" stop-color="rgb(183,51,0)"/><stop offset="0.1751" stop-color="rgb(188,38,0)"/><stop offset="0.1879" stop-color="rgb(189,28,0)"/><stop offset="0.2007" stop-color="rgb(188,22,0)"/><stop offset="0.2134" stop-color="rgb(187,17,0)"/><stop offset="0.2262" stop-color="rgb(186,15,0)"/><stop offset="0.2404" stop-color="rgb(186,13,0)"/><stop offset="0.2702" stop-color="rgb(186,13,0)"/><stop offset="0.3979" stop-color="rgb(184,13,0)"/><stop offset="0.5894" stop-color="rgb(181,12,0)"/><stop offset="0.7809" stop-color="rgb(179,11,0)"/><stop offset="0.9734" stop-color="rgb(177,11,0)"/></linearGradient><linearGradient id="g58" gradientUnits="userSpaceOnUse" x1="73" x2="543" y1="0" y2="0"><stop offset="0.0255" stop-color="rgb(32,0,0)"/><stop offset="0.0574" stop-color="rgb(13,166,0)"/><stop offset="0.0732" stop-color="rgb(31,166,0)"/><stop offset="0.0859" stop-color="rgb(37,166,0)"/><stop offset="0.0987" stop-color="rgb(43,166,0)"/><stop offset="0.1072" stop-color="rgb(41,191,0)"/><stop offset="0.1157" stop-color="rgb(27,230,0)"/><stop offset="0.1242" stop-color="rgb(58,204,0)"/><stop offset="0.1327" stop-color="rgb(109,147,0)"/><stop offset="0.1412" stop-color="rgb(156,89,0)"/><stop offset="0.1498" stop-color="rgb(175,66,0)"/><stop offset="0.1625" stop-color="rgb(184,51,0)"/><stop offset="0.1753" stop-color="rgb(188,38,0)"/><stop offset="0.1881" stop-color="rgb(189,28,0)"/><stop offset="0.2008" stop-color="rgb(188,22,0)"/><stop offset="0.2136" stop-color="rgb(187,17,0)"/><stop offset="0.2264" stop-color="rgb(186,15,0)"/><stop offset="0.2404" stop-color="rgb(186,13,0)"/><stop offset="0.2702" stop-color="rgb(186,13,0)"/><stop offset="0.3979" stop-color="rgb(184,13,0)"/><stop offset="0.5894" stop-color="rgb(181,12,0)"/><stop offset="0.7809" stop-color="rgb(179,11,0)"/><stop offset="0.9734" stop-color="rgb(177,11,0)"/></linearGradient><linearGradient id="g59" gradientUnits="userSpaceOnUse" x1="73" x2="543" y1="0" y2="0"><stop offset="0.0255" stop-color="rgb(32,0,0)"/><stop offset="0.0574" stop-color="rgb(13,166,0)"/><stop offset="0.0733" stop-color="rgb(31,166,0)"/><stop offset="0.0861" stop-color="rgb(37,166,0)"/><stop offset="0.0988" stop-color="rgb(43,166,0)"/><stop offset="0.1074" stop-color="rgb(41,191,0)"/><stop offset="0.1159" stop-color="rgb(27,230,0)"/><stop offset="0.1244" stop-color="rgb(58,204,0)"/><stop offset="0.1329" stop-color="rgb(109,147,0)"/><stop offset="0.1414" stop-color="rgb(157,89,0)"/><stop offset="0.1499" stop-color="rgb(176,66,0)"/><stop offset="0.1627" stop-color="rgb(185,51,0)"/><stop offset="0.1754" stop-color="rgb(189,38,0)"/><stop offset="0.1882" stop-color="rgb(190,28,0)"/><stop offset="0.2010" stop-color="rgb(188,22,0)"/><stop offset="0.2137" stop-color="rgb(187,17,0)"/><stop offset="0.2265" stop-color="rgb(186,15,0)"/><stop offset="0.2404" stop-color="rgb(186,13,0)"/><stop offset="0.2702" stop-color="rgb(186,13,0)"/><stop offset="0.3979" stop-color="rgb(184,13,0)"/><stop offset="0.5894" stop-color="rgb(181,12,0)"/><stop offset="0.7809" stop-color="rgb(179,11,0)"/><stop offset="0.9734" stop-color="rgb(177,11,0)"/></linearGradient><linearGradient id="g60" gradientUnits="userSpaceOnUse" x1="73" x2="543" y1="0" y2="0"><stop offset="0.0255" stop-color="rgb(32,0,0)"/><stop offset="0.0574" stop-color="rgb(13,166,0)"/><stop offset="0.0735" stop-color="rgb(31,166,0)"/><stop offset="0.0862" stop-color="rgb(37,166,0)"/><stop offset="0.0990" stop-color="rgb(43,166,0)"/><stop offset="0.1075" stop-color="rgb(41,191,0)"/><stop offset="0.1160" stop-color="rgb(27,230,0)"/><stop offset="0.1245" stop-color="rgb(59,204,0)"/><stop offset="0.1330" stop-color="rgb(110,147,0)"/><stop offset="0.1415" stop-color="rgb(158,89,0)"/><stop offset="0.1500" stop-color="rgb(178,66,0)"/><stop offset="0.1628" stop-color="rgb(186,51,0)"/><stop offset="0.1756" stop-color="rgb(190,38,0)"/><stop offset="0.1883" stop-color="rgb(190,28,0)"/><stop offset="0.2011" stop-color="rgb(189,22,0)"/><stop offset="0.2139" stop-color="rgb(187,17,0)"/><stop offset="0.2266" stop-color="rgb(186,15,0)"/><stop offset="0.2404" stop-color="rgb(186,13,0)"/><stop offset="0.2702" stop-color="rgb(186,13,0)"/><stop offset="0.3979" stop-color="rgb(184,13,0)"/><stop offset="0.5894" stop-color="rgb(181,12,0)"/><stop offset="0.7809" stop-color="rgb(179,11,0)"/><stop offset="0.9734" stop-color="rgb(177,11,0)"/></linearGradient><linearGradient id="g61" gradientUnits="userSpaceOnUse" x1="73" x2="543" y1="0" y2="0"><stop offset="0.0255" stop-color="rgb(32,0,0)"/><stop offset="0.0574" stop-color="rgb(13,166,0)"/><stop offset="0.0736" stop-color="rgb(31,166,0)"/><stop offset="0.0864" stop-color="rgb(37,166,0)"/><stop offset="0.0991" stop-color="rgb(43,166,0)"/><stop offset="0.1076" stop-color="rgb(41,191,0)"/><stop offset="0.1162" stop-color="rgb(27,230,0)"/><stop offset="0.1247" stop-color="rgb(60,204,0)"/><stop offset="0.1332" stop-color="rgb(111,147,0)"/><stop offset="0.1417" stop-color="rgb(160,89,0)"/><stop offset="0.1502" stop-color="rgb(179,66,0)"/><stop offset="0.1630" stop-color="rgb(188,51,0)"/><stop offset="0.1757" stop-color="rgb(191,38,0)"/><stop offset="0.1885" stop-color="rgb(191,28,0)"/><stop offset="0.2013" stop-color="rgb(189,22,0)"/><stop offset="0.2140" stop-color="rgb(187,17,0)"/><stop offset="0.2268" stop-color="rgb(186,15,0)"/><stop offset="0.2404" stop-color="rgb(186,13,0)"/><stop offset="0.2702" stop-color="rgb(186,13,0)"/><stop offset="0.3979" stop-color="rgb(184,13,0)"/><stop offset="0.5894" stop-color="rgb(181,12,0)"/><stop offset="0.7809" stop-color="rgb(179,11,0)"/><stop offset="0.9734" stop-color="rgb(177,11,0)"/></linearGradient><linearGradient id="g62" gradientUnits="userSpaceOnUse" x1="73" x2="543" y1="0" y2="0"><stop offset="0.0255" stop-color="rgb(32,0,0)"/><stop offset="0.0574" stop-color="rgb(13,166,0)"/><stop offset="0.0737" stop-color="rgb(31,166,0)"/><stop offset="0.0865" stop-color="rgb(37,166,0)"/><stop offset="0.0993" stop-color="rgb(43,166,0)"/><stop offset="0.1078" stop-color="rgb(41,191,0)"/><stop offset="0.1163" stop-color="rgb(27,230,0)"/><stop offset="0.1248" stop-color="rgb(60,204,0)"/><stop offset="0.1333" stop-color="rgb(111,147,0)"/><stop offset="0.1418" stop-color="rgb(160,89,0)"/><stop offset="0.1503" stop-color="rgb(180,66,0)"/><stop offset="0.1631" stop-color="rgb(189,51,0)"/><stop offset="0.1759" stop-color="rgb(191,38,0)"/><stop offset="0.1886" stop-color="rgb(191,28,0)"/><stop offset="0.2014" stop-color="rgb(189,22,0)"/><stop offset="0.2142" stop-color="rgb(188,17,0)"/><stop offset="0.2269" stop-color="rgb(186,15,0)"/><stop offset="0.2404" stop-color="rgb(186,13,0)"/><stop offset="0.2702" stop-color="rgb(186,13,0)"/><stop offset="0.3979" stop-color="rgb(184,13,0)"/><stop offset="0.5894" stop-color="rgb(181,12,0)"/><stop offset="0.7809" stop-color="rgb(179,11,0)"/><stop offset="0.9734" stop-color="rgb(177,11,0)"/></linearGradient><linearGradient id="g63" gradientUnits="userSpaceOnUse" x1="73" x2="543" y1="0" y2="0"><stop offset="0.0255" stop-color="rgb(32,0,0)"/><stop offset="0.0574" stop-color="rgb(13,166,0)"/><stop offset="0.0739" stop-color="rgb(31,166,0)"/><stop offset="0.0867" stop-color="rgb(37,166,0)"/><stop offset="0.0994" stop-color="rgb(43,166,0)"/><stop offset="0.1079" stop-color="rgb(41,191,0)"/><stop offset="0.1164" stop-color="rgb(27,230,0)"/><stop offset="0.1250" stop-color="rgb(60,204,0)"/><stop offset="0.1335" stop-color="rgb(112,147,0)"/><stop offset="0.1420" stop-color="rgb(161,89,0)"/><stop offset="0.1505" stop-color="rgb(180,66,0)"/><stop offset="0.1632" stop-color="rgb(189,51,0)"/><stop offset="0.1760" stop-color="rgb(191,38,0)"/><stop offset="0.1888" stop-color="rgb(191,28,0)"/><stop offset="0.2015" stop-color="rgb(189,22,0)"/><stop offset="0.2143" stop-color="rgb(188,17,0)"/><stop offset="0.2271" stop-color="rgb(186,15,0)"/><stop offset="0.2404" stop-color="rgb(186,13,0)"/><stop offset="0.2702" stop-color="rgb(186,13,0)"/><stop offset="0.3979" stop-color="rgb(184,13,0)"/><stop offset="0.5894" stop-color="rgb(181,12,0)"/><stop offset="0.7809" stop-color="rgb(179,11,0)"/><stop offset="0.9734" stop-color="rgb(177,11,0)"/></linearGradient><linearGradient id="g64" gradientUnits="userSpaceOnUse" x1="73" x2="543" y1="0" y2="0"><stop offset="0.0255" stop-color="rgb(32,0,0)"/><stop offset="0.0574" stop-color="rgb(13,166,0)"/><stop offset="0.0740" stop-color="rgb(31,166,0)"/><stop offset="0.0868" stop-color="rgb(37,166,0)"/><stop offset="0.0996" stop-color="rgb(43,166,0)"/><stop offset="0.1081" stop-color="rgb(41,191,0)"/><stop offset="0.1166" stop-color="rgb(27,230,0)"/><stop offset="0.1251" stop-color="rgb(59,204,0)"/><stop offset="0.1336" stop-color="rgb(111,147,0)"/><stop offset="0.1421" stop-color="rgb(161,89,0)"/><stop offset="0.1506" stop-color="rgb(181,66,0)"/><stop offset="0.1634" stop-color="rgb(191,51,0)"/><stop offset="0.1762" stop-color="rgb(194,38,0)"/><stop offset="0.1889" stop-color="rgb(193,28,0)"/><stop offset="0.2017" stop-color="rgb(190,22,0)"/><stop offset="0.2145" stop-color="rgb(188,17,0)"/><stop offset="0.2272" stop-color="rgb(186,15,0)"/><stop offset="0.2404" stop-color="rgb(186,13,0)"/><stop offset="0.2702" stop-color="rgb(186,13,0)"/><stop offset="0.3979" stop-color="rgb(184,13,0)"/><stop offset="0.5894" stop-color="rgb(181,12,0)"/><stop offset="0.7809" stop-color="rgb(179,11,0)"/><stop offset="0.9734" stop-color="rgb(177,11,0)"/></linearGradient><linearGradient id="g65" gradientUnits="userSpaceOnUse" x1="73" x2="543" y1="0" y2="0"><stop offset="0.0255" stop-color="rgb(32,0,0)"/><stop offset="0.0574" stop-color="rgb(13,166,0)"/><stop offset="0.0742" stop-color="rgb(31,166,0)"/><stop offset="0.0869" stop-color="rgb(37,166,0)"/><stop offset="0.0997" stop-color="rgb(43,166,0)"/><stop offset="0.1082" stop-color="rgb(41,191,0)"/><stop offset="0.1167" stop-color="rgb(27,230,0)"/><stop offset="0.1252" stop-color="rgb(59,204,0)"/><stop offset="0.1338" stop-color="rgb(110,147,0)"/><stop offset="0.1423" stop-color="rgb(161,89,0)"/><stop offset="0.1508" stop-color="rgb(184,66,0)"/><stop offset="0.1635" stop-color="rgb(196,51,0)"/><stop offset="0.1763" stop-color="rgb(198,38,0)"/><stop offset="0.1891" stop-color="rgb(195,28,0)"/><stop offset="0.2018" stop-color="rgb(191,22,0)"/><stop offset="0.2146" stop-color="rgb(188,17,0)"/><stop offset="0.2274" stop-color="rgb(186,15,0)"/><stop offset="0.2404" stop-color="rgb(186,13,0)"/><stop offset="0.2702" stop-color="rgb(186,13,0)"/><stop offset="0.3979" stop-color="rgb(184,13,0)"/><stop offset="0.5894" stop-color="rgb(181,12,0)"/><stop offset="0.7809" stop-color="rgb(179,11,0)"/><stop offset="0.9734" stop-color="rgb(177,11,0)"/></linearGradient><linearGradient id="g66" gradientUnits="userSpaceOnUse" x1="73" x2="543" y1="0" y2="0"><stop offset="0.0255" stop-color="rgb(32,0,0)"/><stop offset="0.0574" stop-color="rgb(13,166,0)"/><stop offset="0.0743" stop-color="rgb(31,166,0)"/><stop offset="0.0871" stop-color="rgb(37,166,0)"/><stop offset="0.0999" stop-color="rgb(43,166,0)"/><stop offset="0.1084" stop-color="rgb(41,191,0)"/><stop offset="0.1169" stop-color="rgb(27,230,0)"/><stop offset="0.1254" stop-color="rgb(58,204,0)"/><stop offset="0.1339" stop-color="rgb(109,147,0)"/><stop offset="0.1424" stop-color="rgb(161,89,0)"/><stop offset="0.1509" stop-color="rgb(186,66,0)"/><stop offset="0.1637" stop-color="rgb(200,51,0)"/><stop offset="0.1765" stop-color="rgb(202,38,0)"/><stop offset="0.1892" stop-color="rgb(198,28,0)"/><stop offset="0.2020" stop-color="rgb(192,22,0)"/><stop offset="0.2147" stop-color="rgb(189,17,0)"/><stop offset="0.2275" stop-color="rgb(186,15,0)"/><stop offset="0.2404" stop-color="rgb(186,13,0)"/><stop offset="0.2702" stop-color="rgb(186,13,0)"/><stop offset="0.3979" stop-color="rgb(184,13,0)"/><stop offset="0.5894" stop-color="rgb(181,12,0)"/><stop offset="0.7809" stop-color="rgb(179,11,0)"/><stop offset="0.9734" stop-color="rgb(177,11,0)"/></linearGradient><linearGradient id="g67" gradientUnits="userSpaceOnUse" x1="73" x2="543" y1="0" y2="0"><stop offset="0.0255" stop-color="rgb(32,0,0)"/><stop offset="0.0574" stop-color="rgb(13,166,0)"/><stop offset="0.0745" stop-color="rgb(31,166,0)"/><stop offset="0.0872" stop-color="rgb(37,166,0)"/><stop offset="0.1000" stop-color="rgb(43,166,0)"/><stop offset="0.1085" stop-color="rgb(41,191,0)"/><stop offset="0.1170" stop-color="rgb(27,230,0)"/><stop offset="0.1255" stop-color="rgb(57,204,0)"/><stop offset="0.1340" stop-color="rgb(108,147,0)"/><stop offset="0.1426" stop-color="rgb(161,89,0)"/><stop offset="0.1511" stop-color="rgb(188,66,0)"/><stop offset="0.1638" stop-color="rgb(203,51,0)"/><stop offset="0.1766" stop-color="rgb(205,38,0)"/><stop offset="0.1894" stop-color="rgb(200,28,0)"/><stop offset="0.2021" stop-color="rgb(193,22,0)"/><stop offset="0.2149" stop-color="rgb(189,17,0)"/><stop offset="0.2277" stop-color="rgb(186,15,0)"/><stop offset="0.2404" stop-color="rgb(186,13,0)"/><stop offset="0.2702" stop-color="rgb(186,13,0)"/><stop offset="0.3979" stop-color="rgb(184,13,0)"/><stop offset="0.5894" stop-color="rgb(181,12,0)"/><stop offset="0.7809" stop-color="rgb(179,11,0)"/><stop offset="0.9734" stop-color="rgb(177,11,0)"/></linearGradient><linearGradient id="g68" gradientUnits="userSpaceOnUse" x1="73" x2="543" y1="0" y2="0"><stop offset="0.0255" stop-color="rgb(32,0,0)"/><stop offset="0.0574" stop-color="rgb(13,166,0)"/><stop offset="0.0746" stop-color="rgb(31,166,0)"/><stop offset="0.0874" stop-color="rgb(37,166,0)"/><stop offset="0.1001" stop-color="rgb(43,166,0)"/><stop offset="0.1087" stop-color="rgb(41,191,0)"/><stop offset="0.1172" stop-color="rgb(27,230,0)"/><stop offset="0.1257" stop-color="rgb(57,204,0)"/><stop offset="0.1342" stop-color="rgb(108,147,0)"/><stop offset="0.1427" stop-color="rgb(161,89,0)"/><stop offset="0.1512" stop-color="rgb(189,66,0)"/><stop offset="0.1640" stop-color="rgb(204,51,0)"/><stop offset="0.1767" stop-color="rgb(205,38,0)"/><stop offset="0.1895" stop-color="rgb(200,28,0)"/><stop offset="0.2023" stop-color="rgb(193,22,0)"/><stop offset="0.2150" stop-color="rgb(189,17,0)"/><stop offset="0.2278" stop-color="rgb(186,15,0)"/><stop offset="0.2404" stop-color="rgb(186,13,0)"/><stop offset="0.2702" stop-color="rgb(186,13,0)"/><stop offset="0.3979" stop-color="rgb(184,13,0)"/><stop offset="0.5894" stop-color="rgb(181,12,0)"/><stop offset="0.7809" stop-color="rgb(179,11,0)"/><stop offset="0.9734" stop-color="rgb(177,11,0)"/></linearGradient><linearGradient id="g69" gradientUnits="userSpaceOnUse" x1="73" x2="543" y1="0" y2="0"><stop offset="0.0255" stop-color="rgb(32,0,0)"/><stop offset="0.0574" stop-color="rgb(13,166,0)"/><stop offset="0.0748" stop-color="rgb(31,166,0)"/><stop offset="0.0875" stop-color="rgb(37,166,0)"/><stop offset="0.1003" stop-color="rgb(43,166,0)"/><stop offset="0.1088" stop-color="rgb(41,191,0)"/><stop offset="0.1173" stop-color="rgb(27,230,0)"/><stop offset="0.1258" stop-color="rgb(57,204,0)"/><stop offset="0.1343" stop-color="rgb(108,147,0)"/><stop offset="0.1428" stop-color="rgb(162,89,0)"/><stop offset="0.1514" stop-color="rgb(191,66,0)"/><stop offset="0.1641" stop-color="rgb(206,51,0)"/><stop offset="0.1769" stop-color="rgb(207,38,0)"/><stop offset="0.1897" stop-color="rgb(202,28,0)"/><stop offset="0.2024" stop-color="rgb(194,22,0)"/><stop offset="0.2152" stop-color="rgb(190,17,0)"/><stop offset="0.2279" stop-color="rgb(186,15,0)"/><stop offset="0.2404" stop-color="rgb(186,13,0)"/><stop offset="0.2702" stop-color="rgb(186,13,0)"/><stop offset="0.3979" stop-color="rgb(184,13,0)"/><stop offset="0.5894" stop-color="rgb(181,12,0)"/><stop offset="0.7809" stop-color="rgb(179,11,0)"/><stop offset="0.9734" stop-color="rgb(177,11,0)"/></linearGradient><linearGradient id="g70" gradientUnits="userSpaceOnUse" x1="73" x2="543" y1="0" y2="0"><stop offset="0.0255" stop-color="rgb(32,0,0)"/><stop offset="0.0574" stop-color="rgb(13,166,0)"/><stop offset="0.0749" stop-color="rgb(31,166,0)"/><stop offset="0.0877" stop-color="rgb(37,166,0)"/><stop offset="0.1004" stop-color="rgb(43,166,0)"/><stop offset="0.1089" stop-color="rgb(41,191,0)"/><stop offset="0.1175" stop-color="rgb(27,229,0)"/><stop offset="0.1260" stop-color="rgb(57,204,0)"/><stop offset="0.1345" stop-color="rgb(109,147,0)"/><stop offset="0.1430" stop-color="rgb(164,89,0)"/><stop offset="0.1515" stop-color="rgb(194,66,0)"/><stop offset="0.1643" stop-color="rgb(210,51,0)"/><stop offset="0.1770" stop-color="rgb(211,38,0)"/><stop offset="0.1898" stop-color="rgb(204,28,0)"/><stop offset="0.2026" stop-color="rgb(195,22,0)"/><stop offset="0.2153" stop-color="rgb(190,17,0)"/><stop offset="0.2281" stop-color="rgb(186,15,0)"/><stop offset="0.2404" stop-color="rgb(186,13,0)"/><stop offset="0.2702" stop-color="rgb(186,13,0)"/><stop offset="0.3979" stop-color="rgb(184,13,0)"/><stop offset="0.5894" stop-color="rgb(181,12,0)"/><stop offset="0.7809" stop-color="rgb(179,11,0)"/><stop offset="0.9734" stop-color="rgb(177,11,0)"/></linearGradient><linearGradient id="g71" gradientUnits="userSpaceOnUse" x1="73" x2="543" y1="0" y2="0"><stop offset="0.0255" stop-color="rgb(32,0,0)"/><stop offset="0.0574" stop-color="rgb(13,166,0)"/><stop offset="0.0750" stop-color="rgb(31,166,0)"/><stop offset="0.0878" stop-color="rgb(37,166,0)"/><stop offset="0.1006" stop-color="rgb(43,166,0)"/><stop offset="0.1091" stop-color="rgb(41,191,0)"/><stop offset="0.1176" stop-color="rgb(27,230,0)"/><stop offset="0.1261" stop-color="rgb(57,204,0)"/><stop offset="0.1346" stop-color="rgb(110,147,0)"/><stop offset="0.1431" stop-color="rgb(166,89,0)"/><stop offset="0.1516" stop-color="rgb(197,66,0)"/><stop offset="0.1644" stop-color="rgb(213,51,0)"/><stop offset="0.1772" stop-color="rgb(213,38,0)"/><stop offset="0.1899" stop-color="rgb(206,28,0)"/><stop offset="0.2027" stop-color="rgb(197,22,0)"/><stop offset="0.2155" stop-color="rgb(190,17,0)"/><stop offset="0.2282" stop-color="rgb(186,15,0)"/><stop offset="0.2404" stop-color="rgb(186,13,0)"/><stop offset="0.2702" stop-color="rgb(186,13,0)"/><stop offset="0.3979" stop-color="rgb(184,13,0)"/><stop offset="0.5894" stop-color="rgb(181,12,0)"/><stop offset="0.7809" stop-color="rgb(179,11,0)"/><stop offset="0.9734" stop-color="rgb(177,11,0)"/></linearGradient><linearGradient id="g72" gradientUnits="userSpaceOnUse" x1="73" x2="543" y1="0" y2="0"><stop offset="0.0255" stop-color="rgb(32,0,0)"/><stop offset="0.0574" stop-color="rgb(13,166,0)"/><stop offset="0.0752" stop-color="rgb(31,166,0)"/><stop offset="0.0880" stop-color="rgb(37,166,0)"/><stop offset="0.1007" stop-color="rgb(43,166,0)"/><stop offset="0.1092" stop-color="rgb(41,191,0)"/><stop offset="0.1177" stop-color="rgb(27,230,0)"/><stop offset="0.1263" stop-color="rgb(57,204,0)"/><stop offset="0.1348" stop-color="rgb(110,147,0)"/><stop offset="0.1433" stop-color="rgb(167,89,0)"/><stop offset="0.1518" stop-color="rgb(198,66,0)"/><stop offset="0.1646" stop-color="rgb(214,51,0)"/><stop offset="0.1773" stop-color="rgb(214,38,0)"/><stop offset="0.1901" stop-color="rgb(207,28,0)"/><stop offset="0.2029" stop-color="rgb(197,22,0)"/><stop offset="0.2156" stop-color="rgb(191,17,0)"/><stop offset="0.2284" stop-color="rgb(186,15,0)"/><stop offset="0.2404" stop-color="rgb(186,13,0)"/><stop offset="0.2702" stop-color="rgb(186,13,0)"/><stop offset="0.3979" stop-color="rgb(184,13,0)"/><stop offset="0.5894" stop-color="rgb(181,12,0)"/><stop offset="0.7809" stop-color="rgb(179,11,0)"/><stop offset="0.9734" stop-color="rgb(177,11,0)"/></linearGradient><linearGradient id="g73" gradientUnits="userSpaceOnUse" x1="73" x2="543" y1="0" y2="0"><stop offset="0.0255" stop-color="rgb(32,0,0)"/><stop offset="0.0574" stop-color="rgb(13,166,0)"/><stop offset="0.0753" stop-color="rgb(31,166,0)"/><stop offset="0.0881" stop-color="rgb(37,166,0)"/><stop offset="0.1009" stop-color="rgb(43,166,0)"/><stop offset="0.1094" stop-color="rgb(41,191,0)"/><stop offset="0.1179" stop-color="rgb(27,230,0)"/><stop offset="0.1264" stop-color="rgb(57,204,0)"/><stop offset="0.1349" stop-color="rgb(110,147,0)"/><stop offset="0.1434" stop-color="rgb(167,89,0)"/><stop offset="0.1519" stop-color="rgb(198,66,0)"/><stop offset="0.1647" stop-color="rgb(214,51,0)"/><stop offset="0.1775" stop-color="rgb(214,38,0)"/><stop offset="0.1902" stop-color="rgb(207,28,0)"/><stop offset="0.2030" stop-color="rgb(197,22,0)"/><stop offset="0.2158" stop-color="rgb(191,17,0)"/><stop offset="0.2285" stop-color="rgb(186,15,0)"/><stop offset="0.2404" stop-color="rgb(186,13,0)"/><stop offset="0.2702" stop-color="rgb(186,13,0)"/><stop offset="0.3979" stop-color="rgb(184,13,0)"/><stop offset="0.5894" stop-color="rgb(181,12,0)"/><stop offset="0.7809" stop-color="rgb(179,11,0)"/><stop offset="0.9734" stop-color="rgb(177,11,0)"/></linearGradient><linearGradient id="g74" gradientUnits="userSpaceOnUse" x1="73" x2="543" y1="0" y2="0"><stop offset="0.0255" stop-color="rgb(32,0,0)"/><stop offset="0.0574" stop-color="rgb(13,166,0)"/><stop offset="0.0755" stop-color="rgb(31,166,0)"/><stop offset="0.0882" stop-color="rgb(37,166,0)"/><stop offset="0.1010" stop-color="rgb(43,166,0)"/><stop offset="0.1095" stop-color="rgb(41,191,0)"/><stop offset="0.1180" stop-color="rgb(27,230,0)"/><stop offset="0.1265" stop-color="rgb(57,204,0)"/><stop offset="0.1351" stop-color="rgb(111,147,0)"/><stop offset="0.1436" stop-color="rgb(167,89,0)"/><stop offset="0.1521" stop-color="rgb(198,66,0)"/><stop offset="0.1648" stop-color="rgb(215,51,0)"/><stop offset="0.1776" stop-color="rgb(215,38,0)"/><stop offset="0.1904" stop-color="rgb(207,28,0)"/><stop offset="0.2031" stop-color="rgb(197,22,0)"/><stop offset="0.2159" stop-color="rgb(191,17,0)"/><stop offset="0.2287" stop-color="rgb(186,15,0)"/><stop offset="0.2404" stop-color="rgb(186,13,0)"/><stop offset="0.2702" stop-color="rgb(186,13,0)"/><stop offset="0.3979" stop-color="rgb(184,13,0)"/><stop offset="0.5894" stop-color="rgb(181,12,0)"/><stop offset="0.7809" stop-color="rgb(179,11,0)"/><stop offset="0.9734" stop-color="rgb(177,11,0)"/></linearGradient><linearGradient id="g75" gradientUnits="userSpaceOnUse" x1="73" x2="543" y1="0" y2="0"><stop offset="0.0255" stop-color="rgb(32,0,0)"/><stop offset="0.0574" stop-color="rgb(13,166,0)"/><stop offset="0.0756" stop-color="rgb(31,166,0)"/><stop offset="0.0884" stop-color="rgb(37,166,0)"/><stop offset="0.1012" stop-color="rgb(43,166,0)"/><stop offset="0.1097" stop-color="rgb(41,191,0)"/><stop offset="0.1182" stop-color="rgb(27,230,0)"/><stop offset="0.1267" stop-color="rgb(57,204,0)"/><stop offset="0.1352" stop-color="rgb(111,147,0)"/><stop offset="0.1437" stop-color="rgb(168,89,0)"/><stop offset="0.1522" stop-color="rgb(198,66,0)"/><stop offset="0.1650" stop-color="rgb(215,51,0)"/><stop offset="0.1778" stop-color="rgb(215,38,0)"/><stop offset="0.1905" stop-color="rgb(207,28,0)"/><stop offset="0.2033" stop-color="rgb(197,22,0)"/><stop offset="0.2161" stop-color="rgb(191,17,0)"/><stop offset="0.2288" stop-color="rgb(186,15,0)"/><stop offset="0.2404" stop-color="rgb(186,13,0)"/><stop offset="0.2702" stop-color="rgb(186,13,0)"/><stop offset="0.3979" stop-color="rgb(184,13,0)"/><stop offset="0.5894" stop-color="rgb(181,12,0)"/><stop offset="0.7809" stop-color="rgb(179,11,0)"/><stop offset="0.9734" stop-color="rgb(177,11,0)"/></linearGradient><linearGradient id="g76" gradientUnits="userSpaceOnUse" x1="73" x2="543" y1="0" y2="0"><stop offset="0.0255" stop-color="rgb(32,0,0)"/><stop offset="0.0574" stop-color="rgb(13,166,0)"/><stop offset="0.0758" stop-color="rgb(31,166,0)"/><stop offset="0.0885" stop-color="rgb(37,166,0)"/><stop offset="0.1013" stop-color="rgb(43,166,0)"/><stop offset="0.1098" stop-color="rgb(41,191,0)"/><stop offset="0.1183" stop-color="rgb(27,230,0)"/><stop offset="0.1268" stop-color="rgb(57,204,0)"/><stop offset="0.1353" stop-color="rgb(111,147,0)"/><stop offset="0.1439" stop-color="rgb(168,89,0)"/><stop offset="0.1524" stop-color="rgb(199,66,0)"/><stop offset="0.1651" stop-color="rgb(215,51,0)"/><stop offset="0.1779" stop-color="rgb(215,38,0)"/><stop offset="0.1907" stop-color="rgb(208,28,0)"/><stop offset="0.2034" stop-color="rgb(197,22,0)"/><stop offset="0.2162" stop-color="rgb(191,17,0)"/><stop offset="0.2290" stop-color="rgb(186,15,0)"/><stop offset="0.2404" stop-color="rgb(186,13,0)"/><stop offset="0.2702" stop-color="rgb(186,13,0)"/><stop offset="0.3979" stop-color="rgb(184,13,0)"/><stop offset="0.5894" stop-color="rgb(181,12,0)"/><stop offset="0.7809" stop-color="rgb(179,11,0)"/><stop offset="0.9734" stop-color="rgb(177,11,0)"/></linearGradient><linearGradient id="g77" gradientUnits="userSpaceOnUse" x1="73" x2="543" y1="0" y2="0"><stop offset="0.0255" stop-color="rgb(32,0,0)"/><stop offset="0.0574" stop-color="rgb(13,166,0)"/><stop offset="0.0759" stop-color="rgb(31,166,0)"/><stop offset="0.0887" stop-color="rgb(37,166,0)"/><stop offset="0.1015" stop-color="rgb(43,166,0)"/><stop offset="0.1100" stop-color="rgb(41,191,0)"/><stop offset="0.1185" stop-color="rgb(27,230,0)"/><stop offset="0.1270" stop-color="rgb(57,204,0)"/><stop offset="0.1355" stop-color="rgb(112,147,0)"/><stop offset="0.1440" stop-color="rgb(168,89,0)"/><stop offset="0.1525" stop-color="rgb(199,66,0)"/><stop offset="0.1653" stop-color="rgb(215,51,0)"/><stop offset="0.1780" stop-color="rgb(215,38,0)"/><stop offset="0.1908" stop-color="rgb(208,28,0)"/><stop offset="0.2036" stop-color="rgb(198,22,0)"/><stop offset="0.2163" stop-color="rgb(191,17,0)"/><stop offset="0.2291" stop-color="rgb(186,15,0)"/><stop offset="0.2404" stop-color="rgb(186,13,0)"/><stop offset="0.2702" stop-color="rgb(186,13,0)"/><stop offset="0.3979" stop-color="rgb(184,13,0)"/><stop offset="0.5894" stop-color="rgb(181,12,0)"/><stop offset="0.7809" stop-color="rgb(179,11,0)"/><stop offset="0.9734" stop-color="rgb(177,11,0)"/></linearGradient>
<filter id="heat" filterUnits="userSpaceOnUse" x="73.0" y="-9" width="470.0" height="465" color-interpolation-filters="sRGB">
<feGaussianBlur in="SourceGraphic" stdDeviation="0 3" result="sb"/>
<feColorMatrix in="sb" type="matrix" values="1 0 0 0 0 1 0 0 0 0 1 0 0 0 0 0 0 0 0 1" result="base"/>
<feColorMatrix in="sb" type="matrix" values="0 1 0 0 0 0 1 0 0 0 0 1 0 0 0 0 0 0 0 1" result="amp"/>
<feTurbulence type="fractalNoise" baseFrequency="0.83 0.79" numOctaves="2" seed="11" result="n"/>
<feColorMatrix in="n" type="matrix" values="1 0 0 0 0 0 1 0 0 0 0 0 1 0 0 0 0 0 0 1" result="n1"/>
<feConvolveMatrix in="n1" order="3" kernelMatrix="1 2 1 2 4 2 1 2 1" divisor="16" edgeMode="duplicate" preserveAlpha="true" result="nb"/>
<feColorMatrix in="nb" type="matrix" values="3.3 3.3 3.3 0 -4.449999999999999 3.3 3.3 3.3 0 -4.449999999999999 3.3 3.3 3.3 0 -4.449999999999999 0 0 0 0 1" result="ng"/>
<feComposite in="ng" in2="amp" operator="arithmetic" k1="1" k2="0" k3="0" k4="0" result="T"/>
<feColorMatrix in="T" type="matrix" values="1 0 0 0 0 0 1 0 0 0 0 0 1 0 0 0 0 0 0 1" result="T1"/>
<feComposite in="base" in2="T1" operator="arithmetic" k1="0" k2="2.0" k3="2.0" k4="-1.25" result="v"/>
<feColorMatrix in="v" type="matrix" values="1 0 0 0 0 0 1 0 0 0 0 0 1 0 0 0 0 0 0 1" result="v1"/>
<feComponentTransfer in="v1">
<feFuncR type="table" tableValues="0 0.3333 0.6667 1 1 1 1 1 1"/>
<feFuncG type="table" tableValues="0 0.02 0.03 0.04 0.3333 0.6667 1 1 1"/>
<feFuncB type="table" tableValues="0 0.02 0.04 0.03 0.02 0 0 0.5 1"/>
</feComponentTransfer>
</filter>
<clipPath id="lclip"><rect x="84.65" y="2.7" width="446.35" height="440"/></clipPath>
<clipPath id="rclip"><rect x="694.8" y="10.6" width="538.95" height="432.5"/></clipPath>
<linearGradient id="hot" x1="0" y1="1" x2="0" y2="0">
<stop offset="0" stop-color="#000"/><stop offset="0.3773" stop-color="#f00"/><stop offset="0.7545" stop-color="#ff0"/><stop offset="1" stop-color="#fffffa"/>
</linearGradient>
</defs>
<rect width="1253" height="512" fill="#fff"/>
<!-- left: heat map -->
<rect x="84.65" y="2.7" width="446.35" height="440" fill="#a00808"/>
<g clip-path="url(#lclip)">
<g filter="url(#heat)"><rect x="73" y="-9" width="470" height="6.5" fill="url(#g0)"/><rect x="73" y="-3" width="470" height="6.5" fill="url(#g1)"/><rect x="73" y="3" width="470" height="6.5" fill="url(#g2)"/><rect x="73" y="9" width="470" height="6.5" fill="url(#g3)"/><rect x="73" y="15" width="470" height="6.5" fill="url(#g4)"/><rect x="73" y="21" width="470" height="6.5" fill="url(#g5)"/><rect x="73" y="27" width="470" height="6.5" fill="url(#g6)"/><rect x="73" y="33" width="470" height="6.5" fill="url(#g7)"/><rect x="73" y="39" width="470" height="6.5" fill="url(#g8)"/><rect x="73" y="45" width="470" height="6.5" fill="url(#g9)"/><rect x="73" y="51" width="470" height="6.5" fill="url(#g10)"/><rect x="73" y="57" width="470" height="6.5" fill="url(#g11)"/><rect x="73" y="63" width="470" height="6.5" fill="url(#g12)"/><rect x="73" y="69" width="470" height="6.5" fill="url(#g13)"/><rect x="73" y="75" width="470" height="6.5" fill="url(#g14)"/><rect x="73" y="81" width="470" height="6.5" fill="url(#g15)"/><rect x="73" y="87" width="470" height="6.5" fill="url(#g16)"/><rect x="73" y="93" width="470" height="6.5" fill="url(#g17)"/><rect x="73" y="99" width="470" height="6.5" fill="url(#g18)"/><rect x="73" y="105" width="470" height="6.5" fill="url(#g19)"/><rect x="73" y="111" width="470" height="6.5" fill="url(#g20)"/><rect x="73" y="117" width="470" height="6.5" fill="url(#g21)"/><rect x="73" y="123" width="470" height="6.5" fill="url(#g22)"/><rect x="73" y="129" width="470" height="6.5" fill="url(#g23)"/><rect x="73" y="135" width="470" height="6.5" fill="url(#g24)"/><rect x="73" y="141" width="470" height="6.5" fill="url(#g25)"/><rect x="73" y="147" width="470" height="6.5" fill="url(#g26)"/><rect x="73" y="153" width="470" height="6.5" fill="url(#g27)"/><rect x="73" y="159" width="470" height="6.5" fill="url(#g28)"/><rect x="73" y="165" width="470" height="6.5" fill="url(#g29)"/><rect x="73" y="171" width="470" height="6.5" fill="url(#g30)"/><rect x="73" y="177" width="470" height="6.5" fill="url(#g31)"/><rect x="73" y="183" width="470" height="6.5" fill="url(#g32)"/><rect x="73" y="189" width="470" height="6.5" fill="url(#g33)"/><rect x="73" y="195" width="470" height="6.5" fill="url(#g34)"/><rect x="73" y="201" width="470" height="6.5" fill="url(#g35)"/><rect x="73" y="207" width="470" height="6.5" fill="url(#g36)"/><rect x="73" y="213" width="470" height="6.5" fill="url(#g37)"/><rect x="73" y="219" width="470" height="6.5" fill="url(#g38)"/><rect x="73" y="225" width="470" height="6.5" fill="url(#g39)"/><rect x="73" y="231" width="470" height="6.5" fill="url(#g40)"/><rect x="73" y="237" width="470" height="6.5" fill="url(#g41)"/><rect x="73" y="243" width="470" height="6.5" fill="url(#g42)"/><rect x="73" y="249" width="470" height="6.5" fill="url(#g43)"/><rect x="73" y="255" width="470" height="6.5" fill="url(#g44)"/><rect x="73" y="261" width="470" height="6.5" fill="url(#g45)"/><rect x="73" y="267" width="470" height="6.5" fill="url(#g46)"/><rect x="73" y="273" width="470" height="6.5" fill="url(#g47)"/><rect x="73" y="279" width="470" height="6.5" fill="url(#g48)"/><rect x="73" y="285" width="470" height="6.5" fill="url(#g49)"/><rect x="73" y="291" width="470" height="6.5" fill="url(#g50)"/><rect x="73" y="297" width="470" height="6.5" fill="url(#g51)"/><rect x="73" y="303" width="470" height="6.5" fill="url(#g52)"/><rect x="73" y="309" width="470" height="6.5" fill="url(#g53)"/><rect x="73" y="315" width="470" height="6.5" fill="url(#g54)"/><rect x="73" y="321" width="470" height="6.5" fill="url(#g55)"/><rect x="73" y="327" width="470" height="6.5" fill="url(#g56)"/><rect x="73" y="333" width="470" height="6.5" fill="url(#g57)"/><rect x="73" y="339" width="470" height="6.5" fill="url(#g58)"/><rect x="73" y="345" width="470" height="6.5" fill="url(#g59)"/><rect x="73" y="351" width="470" height="6.5" fill="url(#g60)"/><rect x="73" y="357" width="470" height="6.5" fill="url(#g61)"/><rect x="73" y="363" width="470" height="6.5" fill="url(#g62)"/><rect x="73" y="369" width="470" height="6.5" fill="url(#g63)"/><rect x="73" y="375" width="470" height="6.5" fill="url(#g64)"/><rect x="73" y="381" width="470" height="6.5" fill="url(#g65)"/><rect x="73" y="387" width="470" height="6.5" fill="url(#g66)"/><rect x="73" y="393" width="470" height="6.5" fill="url(#g67)"/><rect x="73" y="399" width="470" height="6.5" fill="url(#g68)"/><rect x="73" y="405" width="470" height="6.5" fill="url(#g69)"/><rect x="73" y="411" width="470" height="6.5" fill="url(#g70)"/><rect x="73" y="417" width="470" height="6.5" fill="url(#g71)"/><rect x="73" y="423" width="470" height="6.5" fill="url(#g72)"/><rect x="73" y="429" width="470" height="6.5" fill="url(#g73)"/><rect x="73" y="435" width="470" height="6.5" fill="url(#g74)"/><rect x="73" y="441" width="470" height="6.5" fill="url(#g75)"/><rect x="73" y="447" width="470" height="6.5" fill="url(#g76)"/><rect x="73" y="453" width="470" height="6.5" fill="url(#g77)"/></g>
<polyline points="101.3,153.0 102.2,62.0 103.4,159.0 104.8,35.5 106.6,127.0 108.7,38.6 110.2,89.0 111.9,17.5 113.3,56.6 114.1,37.0 115.3,53.4 116.4,36.3 117.3,46.0 118.4,27.7 120.0,51.9 120.8,33.0 121.9,44.0 123.6,31.6 125.2,40.0 127.0,42.5 128.6,50.0 129.8,47.0 131.2,57.0 132.5,59.7 133.8,46.4 135.4,58.0 137.2,67.5 138.6,60.0 140.3,51.0 141.8,63.0 143.2,69.0 144.7,62.8 146.3,72.0 148.9,83.1 150.5,91.0 151.8,93.4 153.1,94.2 154.4,95.8 155.0,106.3 156.4,101.4 157.6,112.8 158.3,112.0 160.2,129.7 161.2,140.2 161.5,146.7 161.9,146.0 163.5,142.7 163.5,142.9 163.9,157.0 164.8,165.7 165.5,177.2 166.7,182.2 168.0,192.3 169.1,200.0 171.5,204.8 172.4,216.1 173.0,216.2 173.9,216.1 174.8,219.1 175.6,216.5 176.5,218.3 177.4,221.1 178.2,219.3 179.1,217.2 180.0,217.7 180.8,220.3 181.7,216.9 182.6,217.9 183.4,216.8 184.3,217.4 185.2,219.6 186.0,216.8 186.9,218.7 187.8,215.0 188.7,216.2 189.5,216.9 190.4,218.1 191.3,215.8 192.1,215.7 193.0,217.9 193.9,212.0 194.7,214.7 195.6,212.1 196.5,216.4 197.3,211.5 198.2,217.7 199.1,219.0 199.9,218.3 200.8,220.2 201.7,224.6 202.6,222.9 203.4,219.7 204.3,217.4 205.2,219.0 206.0,221.6 206.9,219.7 207.8,223.5 208.6,220.4 209.5,223.3 210.4,221.3 211.2,221.8 212.1,221.0 213.0,223.3 213.9,221.4 214.7,223.7 215.6,222.3 216.5,222.9 217.3,227.4 218.2,223.5 219.1,223.7 219.9,225.4 220.8,224.4 221.7,226.8 222.5,223.7 223.4,223.8 224.3,223.8 225.1,220.2 226.0,224.5 226.9,224.8 227.8,226.0 228.6,223.8 229.5,226.1 230.4,222.6 231.2,226.2 232.1,224.8 233.0,222.2 233.8,223.3 234.7,224.9 235.6,222.6 236.4,225.9 237.3,224.8 238.2,225.8 239.0,226.4 239.9,224.3 240.8,223.4 241.7,225.8 242.5,227.2 243.4,226.5 244.3,229.4 245.1,226.1 246.0,227.0 246.9,221.7 247.7,226.2 248.6,227.6 249.5,223.4 250.3,224.8 251.2,223.6 252.1,223.8 252.9,224.7 253.8,226.0 254.7,224.9 255.6,226.2 256.4,228.7 257.3,228.5 258.2,230.2 259.0,229.3 259.9,229.0 260.8,229.6 261.6,231.0 262.5,232.8 263.4,229.4 264.2,232.9 265.1,232.4 266.0,233.0 266.9,232.1 267.7,232.0 268.6,227.5 269.5,229.1 270.3,232.5 271.2,230.8 272.1,231.4 272.9,227.5 273.8,227.1 274.7,230.6 275.5,228.9 276.4,230.5 277.3,229.9 278.1,227.7 279.0,231.1 279.9,233.4 280.8,230.4 281.6,230.7 282.5,230.6 283.4,230.8 284.2,233.7 285.1,236.4 286.0,230.8 286.8,233.0 287.7,234.7 288.6,234.3 289.4,230.8 290.3,232.0 291.2,231.8 292.0,231.0 292.9,234.4 293.8,235.7 294.7,235.9 295.5,235.8 296.4,234.9 297.3,236.3 298.1,235.3 299.0,236.5 299.9,236.3 300.7,234.6 301.6,233.3 302.5,233.3 303.3,236.7 304.2,237.1 305.1,237.7 305.9,235.5 306.8,235.2 307.7,239.5 308.6,238.3 309.4,240.6 310.3,240.8 311.2,240.5 312.0,241.7 312.9,240.1 313.8,244.4 314.6,243.2 315.5,242.0 316.4,243.3 317.2,242.0 318.1,245.8 319.0,242.6 319.8,245.4 320.7,243.7 321.6,243.2 322.5,240.7 323.3,243.0 324.2,242.2 325.1,244.6 325.9,241.5 326.8,245.9 327.7,245.9 328.5,247.7 329.4,245.3 330.3,243.9 331.1,247.0 332.0,247.1 332.9,246.9 333.8,246.8 334.6,248.1 335.5,250.0 336.4,246.0 337.2,251.7 338.1,250.4 339.0,248.3 339.8,247.5 340.7,250.3 341.6,249.9 342.4,249.4 343.3,250.1 344.2,248.1 345.0,250.6 345.9,251.2 346.8,251.0 347.7,250.4 348.5,248.5 349.4,248.3 350.3,251.6 351.1,253.9 352.0,254.2 352.9,248.3 353.7,252.9 354.6,251.2 355.5,248.2 356.3,253.1 357.2,252.6 358.1,253.5 358.9,254.0 359.8,250.8 360.7,250.0 361.6,255.0 362.4,250.3 363.3,253.3 364.2,252.2 365.0,252.5 365.9,255.3 366.8,254.0 367.6,254.8 368.5,250.3 369.4,250.7 370.2,254.3 371.1,256.7 372.0,253.5 372.8,255.5 373.7,252.9 374.6,252.5 375.5,253.8 376.3,257.5 377.2,258.4 378.1,257.9 378.9,256.9 379.8,258.0 380.7,254.8 381.5,255.3 382.4,256.3 383.3,256.8 384.1,255.4 385.0,253.9 385.9,259.8 386.8,256.1 387.6,257.0 388.5,258.2 389.4,258.2 390.2,257.9 391.1,255.6 392.0,258.5 392.8,259.4 393.7,260.8 394.6,257.7 395.4,261.1 396.3,260.1 397.2,258.7 398.0,260.2 398.9,261.2 399.8,261.1 400.7,259.5 401.5,261.8 402.4,262.3 403.3,261.7 404.1,263.3 405.0,263.0 405.9,264.7 406.7,262.1 407.6,263.2 408.5,267.1 409.3,263.9 410.2,260.5 411.1,262.7 411.9,263.1 412.8,260.1 413.7,263.4 414.6,261.7 415.4,261.5 416.3,261.4 417.2,264.6 418.0,265.9 418.9,261.7 419.8,265.8 420.6,265.1 421.5,260.5 422.4,265.6 423.2,268.6 424.1,260.0 425.0,264.1 425.8,265.1 426.7,261.0 427.6,266.0 428.5,263.1 429.3,265.7 430.2,266.1 431.1,264.5 431.9,264.4 432.8,263.3 433.7,263.4 434.5,266.8 435.4,266.2 436.3,263.0 437.1,265.7 438.0,266.7 438.9,264.7 439.8,264.9 440.6,265.4 441.5,268.7 442.4,268.9 443.2,266.7 444.1,266.4 445.0,270.7 445.8,270.2 446.7,269.5 447.6,267.5 448.4,271.6 449.3,265.6 450.2,269.9 451.0,269.4 451.9,266.4 452.8,269.0 453.7,268.3 454.5,271.5 455.4,270.6 456.3,273.0 457.1,271.0 458.0,271.3 458.9,273.3 459.7,270.6 460.6,271.7 461.5,276.0 462.3,271.4 463.2,274.8 464.1,272.5 464.9,275.6 465.8,275.0 466.7,273.6 467.6,271.0 468.4,277.7 469.3,275.6 470.2,275.1 471.0,272.6 471.9,275.2 472.8,273.8 473.6,272.5 474.5,273.6 475.4,275.6 476.2,275.1 477.1,275.5 478.0,275.3 478.8,276.9 479.7,276.0 480.6,275.1 481.5,276.9 482.3,276.9 483.2,276.0 484.1,275.8 484.9,279.4 485.8,279.2 486.7,276.2 487.5,278.2 488.4,280.3 489.3,278.8 490.1,276.4 491.0,280.2 491.9,280.3 492.8,279.0 493.6,275.7 494.5,279.5 495.4,278.1 496.2,277.2 497.1,277.2 498.0,279.3 498.8,277.8 499.7,279.5 500.6,279.2 501.4,280.1 502.3,280.3 503.2,283.3 504.0,279.5 504.9,281.3 505.8,284.9 506.7,282.0 507.5,281.4 508.4,282.4 509.3,286.2 510.1,283.7 511.0,284.5 511.9,284.1 512.7,288.1 513.6,283.9 514.5,283.2 515.3,283.5 516.2,284.5 517.1,284.9 517.9,283.9 518.8,284.6 519.7,285.6 520.6,283.7 521.4,283.4 522.3,282.9 523.2,283.8 524.0,285.8 524.9,285.2 525.8,283.6 526.6,283.6 527.5,282.9 528.4,288.0 529.2,286.4 530.1,287.0" fill="none" stroke="#fff" stroke-width="1.55" stroke-linejoin="round"/>
<line x1="120.85" x2="120.85" y1="3.45" y2="442.0" stroke="#55ff66" stroke-width="1.0"/>
</g>
<rect x="85.4" y="3.45" width="444.85" height="438.55" fill="none" stroke="#000" stroke-width="1.5"/>
<g stroke="#000" stroke-width="1" opacity="0.55"><path d="M129.9 442.0v-4.5M129.9 3.5v4.5"/><path d="M174.4 442.0v-4.5M174.4 3.5v4.5"/><path d="M218.9 442.0v-4.5M218.9 3.5v4.5"/><path d="M263.3 442.0v-4.5M263.3 3.5v4.5"/><path d="M307.8 442.0v-4.5M307.8 3.5v4.5"/><path d="M352.3 442.0v-4.5M352.3 3.5v4.5"/><path d="M396.8 442.0v-4.5M396.8 3.5v4.5"/><path d="M441.3 442.0v-4.5M441.3 3.5v4.5"/><path d="M485.8 442.0v-4.5M485.8 3.5v4.5"/><path d="M85.4 397.3h4.5M530.2 397.3h-4.5"/><path d="M85.4 352.6h4.5M530.2 352.6h-4.5"/><path d="M85.4 308.0h4.5M530.2 308.0h-4.5"/><path d="M85.4 263.3h4.5M530.2 263.3h-4.5"/><path d="M85.4 218.6h4.5M530.2 218.6h-4.5"/><path d="M85.4 173.9h4.5M530.2 173.9h-4.5"/><path d="M85.4 129.3h4.5M530.2 129.3h-4.5"/><path d="M85.4 84.6h4.5M530.2 84.6h-4.5"/><path d="M85.4 39.9h4.5M530.2 39.9h-4.5"/></g>
<!-- left legend -->
<rect x="387.9" y="21.2" width="139.6" height="39.2" fill="#d2d2d2"/>
<line x1="391" x2="410" y1="31.1" y2="31.1" stroke="#fff" stroke-width="1.2"/>
<line x1="391" x2="410" y1="50.2" y2="50.2" stroke="#5fd06c" stroke-width="1.2"/>
<text stroke="none" x="411.3" y="34.5" font-size="15.2" fill="#000" textLength="113" lengthAdjust="spacingAndGlyphs">Isotopic Fraction</text>
<text stroke="none" x="411.3" y="53.4" font-size="15.2" fill="#000" textLength="108.3" lengthAdjust="spacingAndGlyphs">Surface Position</text>
<text stroke="none" x="85.4" y="459.9" font-size="15.7" text-anchor="middle" fill="#000" >0</text><text stroke="none" x="129.9" y="459.9" font-size="15.7" text-anchor="middle" fill="#000" >10</text><text stroke="none" x="174.4" y="459.9" font-size="15.7" text-anchor="middle" fill="#000" >20</text><text stroke="none" x="218.9" y="459.9" font-size="15.7" text-anchor="middle" fill="#000" >30</text><text stroke="none" x="263.3" y="459.9" font-size="15.7" text-anchor="middle" fill="#000" >40</text><text stroke="none" x="307.8" y="459.9" font-size="15.7" text-anchor="middle" fill="#000" >50</text><text stroke="none" x="352.3" y="459.9" font-size="15.7" text-anchor="middle" fill="#000" >60</text><text stroke="none" x="396.8" y="459.9" font-size="15.7" text-anchor="middle" fill="#000" >70</text><text stroke="none" x="441.3" y="459.9" font-size="15.7" text-anchor="middle" fill="#000" >80</text><text stroke="none" x="485.8" y="459.9" font-size="15.7" text-anchor="middle" fill="#000" >90</text><text stroke="none" x="530.2" y="459.9" font-size="15.7" text-anchor="middle" fill="#000" >100</text><text stroke="none" x="80.6" y="446.5" font-size="15.7" text-anchor="end" fill="#000" >0</text><text stroke="none" x="80.6" y="401.6" font-size="15.7" text-anchor="end" fill="#000" >0.05</text><text stroke="none" x="80.6" y="356.8" font-size="15.7" text-anchor="end" fill="#000" >0.1</text><text stroke="none" x="80.6" y="311.9" font-size="15.7" text-anchor="end" fill="#000" >0.15</text><text stroke="none" x="80.6" y="267.1" font-size="15.7" text-anchor="end" fill="#000" >0.2</text><text stroke="none" x="80.6" y="222.2" font-size="15.7" text-anchor="end" fill="#000" >0.25</text><text stroke="none" x="80.6" y="177.4" font-size="15.7" text-anchor="end" fill="#000" >0.3</text><text stroke="none" x="80.6" y="132.5" font-size="15.7" text-anchor="end" fill="#000" >0.35</text><text stroke="none" x="80.6" y="87.7" font-size="15.7" text-anchor="end" fill="#000" >0.4</text><text stroke="none" x="80.6" y="42.8" font-size="15.7" text-anchor="end" fill="#000" >0.45</text><text stroke="none" x="256.0" y="479.8" font-size="16.8" fill="#000" textLength="49.4" lengthAdjust="spacingAndGlyphs" >Depth,</text><text stroke="none" x="312.3" y="479.8" font-size="16.8" fill="#000" textLength="8.8" lengthAdjust="spacingAndGlyphs" font-style="italic">x</text><text stroke="none" x="328.1" y="479.8" font-size="16.8" fill="#000" textLength="7.0" lengthAdjust="spacingAndGlyphs" >/</text><text stroke="none" x="336.2" y="479.8" font-size="16.8" fill="#000" textLength="9.8" lengthAdjust="spacingAndGlyphs" font-style="italic">μ</text><text stroke="none" x="346.4" y="479.8" font-size="16.8" fill="#000" textLength="13.4" lengthAdjust="spacingAndGlyphs" >m</text><g transform="translate(45.8,222.2) rotate(-90)"><text stroke="none" x="-72.5" y="0" font-size="16.8" fill="#000" textLength="145.1" lengthAdjust="spacingAndGlyphs">Isotopic Fraction, <tspan font-style="italic">C</tspan></text></g>
<!-- colorbar -->
<rect x="547.3" y="3.45" width="10.700000000000045" height="438.55" fill="url(#hot)" stroke="#666" stroke-width="0.6"/>
<line x1="554.0" x2="558.0" y1="442.0" y2="442.0" stroke="#333" stroke-width="0.7"/><text stroke="none" x="562.3" y="445.9" font-size="15.4" text-anchor="start" fill="#3c3c3c" >0</text><line x1="554.0" x2="558.0" y1="397.8" y2="397.8" stroke="#333" stroke-width="0.7"/><text stroke="none" x="562.3" y="401.7" font-size="15.4" text-anchor="start" fill="#3c3c3c" >0.1</text><line x1="554.0" x2="558.0" y1="353.7" y2="353.7" stroke="#333" stroke-width="0.7"/><text stroke="none" x="562.3" y="357.6" font-size="15.4" text-anchor="start" fill="#3c3c3c" >0.2</text><line x1="554.0" x2="558.0" y1="309.5" y2="309.5" stroke="#333" stroke-width="0.7"/><text stroke="none" x="562.3" y="313.4" font-size="15.4" text-anchor="start" fill="#3c3c3c" >0.3</text><line x1="554.0" x2="558.0" y1="265.3" y2="265.3" stroke="#333" stroke-width="0.7"/><text stroke="none" x="562.3" y="269.2" font-size="15.4" text-anchor="start" fill="#3c3c3c" >0.4</text><line x1="554.0" x2="558.0" y1="221.2" y2="221.2" stroke="#333" stroke-width="0.7"/><text stroke="none" x="562.3" y="225.1" font-size="15.4" text-anchor="start" fill="#3c3c3c" >0.5</text><line x1="554.0" x2="558.0" y1="177.0" y2="177.0" stroke="#333" stroke-width="0.7"/><text stroke="none" x="562.3" y="180.9" font-size="15.4" text-anchor="start" fill="#3c3c3c" >0.6</text><line x1="554.0" x2="558.0" y1="132.8" y2="132.8" stroke="#333" stroke-width="0.7"/><text stroke="none" x="562.3" y="136.7" font-size="15.4" text-anchor="start" fill="#3c3c3c" >0.7</text><line x1="554.0" x2="558.0" y1="88.6" y2="88.6" stroke="#333" stroke-width="0.7"/><text stroke="none" x="562.3" y="92.5" font-size="15.4" text-anchor="start" fill="#3c3c3c" >0.8</text><line x1="554.0" x2="558.0" y1="44.5" y2="44.5" stroke="#333" stroke-width="0.7"/><text stroke="none" x="562.3" y="48.4" font-size="15.4" text-anchor="start" fill="#3c3c3c" >0.9</text><g transform="translate(596.7,222.7) rotate(-90)"><text stroke="none" x="-66.3" y="0" font-size="16" fill="#3c3c3c" textLength="132.6" lengthAdjust="spacingAndGlyphs">Isotopic Fraction, <tspan font-style="italic">C</tspan></text></g>
<!-- right plot -->
<g fill="none" stroke="#0072bd" stroke-width="0.95"><circle cx="694.9" cy="59.5" r="2.15"/><circle cx="694.9" cy="52.4" r="2.15"/><circle cx="697.6" cy="60.6" r="2.15"/><circle cx="698.1" cy="51.3" r="2.15"/><circle cx="699.0" cy="48.3" r="2.15"/><circle cx="699.6" cy="54.2" r="2.15"/><circle cx="701.9" cy="58.3" r="2.15"/><circle cx="703.5" cy="52.4" r="2.15"/><circle cx="703.7" cy="61.8" r="2.15"/><circle cx="705.5" cy="65.3" r="2.15"/><circle cx="706.6" cy="69.4" r="2.15"/><circle cx="708.4" cy="72.9" r="2.15"/><circle cx="709.3" cy="77.0" r="2.15"/><circle cx="711.3" cy="60.0" r="2.15"/><circle cx="713.1" cy="71.8" r="2.15"/><circle cx="714.8" cy="75.9" r="2.15"/><circle cx="714.8" cy="84.1" r="2.15"/><circle cx="717.2" cy="80.0" r="2.15"/><circle cx="717.5" cy="68.2" r="2.15"/><circle cx="718.3" cy="65.3" r="2.15"/><circle cx="719.5" cy="71.8" r="2.15"/><circle cx="720.7" cy="78.2" r="2.15"/><circle cx="721.5" cy="81.7" r="2.15"/><circle cx="722.4" cy="74.7" r="2.15"/><circle cx="724.8" cy="80.6" r="2.15"/><circle cx="725.4" cy="87.6" r="2.15"/><circle cx="726.0" cy="82.9" r="2.15"/><circle cx="726.6" cy="85.8" r="2.15"/><circle cx="728.1" cy="94.0" r="2.15"/><circle cx="725.2" cy="86.9" r="2.15"/><circle cx="727.5" cy="93.9" r="2.15"/><circle cx="729.1" cy="97.8" r="2.15"/><circle cx="730.6" cy="103.3" r="2.15"/><circle cx="732.2" cy="105.6" r="2.15"/><circle cx="733.8" cy="106.4" r="2.15"/><circle cx="735.3" cy="107.9" r="2.15"/><circle cx="737.7" cy="113.4" r="2.15"/><circle cx="736.1" cy="118.1" r="2.15"/><circle cx="739.2" cy="124.4" r="2.15"/><circle cx="740.0" cy="123.6" r="2.15"/><circle cx="742.4" cy="140.8" r="2.15"/><circle cx="743.6" cy="150.9" r="2.15"/><circle cx="746.2" cy="153.3" r="2.15"/><circle cx="743.8" cy="157.2" r="2.15"/><circle cx="744.3" cy="156.5" r="2.15"/><circle cx="746.2" cy="153.5" r="2.15"/><circle cx="746.8" cy="167.2" r="2.15"/><circle cx="747.8" cy="175.6" r="2.15"/><circle cx="748.7" cy="186.7" r="2.15"/><circle cx="750.1" cy="191.6" r="2.15"/><circle cx="751.7" cy="201.4" r="2.15"/><circle cx="753.0" cy="208.8" r="2.15"/><circle cx="756.0" cy="213.5" r="2.15"/><circle cx="757.0" cy="224.4" r="2.15"/><circle cx="757.8" cy="224.5" r="2.15"/><circle cx="758.9" cy="224.4" r="2.15"/><circle cx="759.9" cy="227.4" r="2.15"/><circle cx="761.0" cy="224.8" r="2.15"/><circle cx="762.0" cy="226.6" r="2.15"/><circle cx="763.1" cy="229.2" r="2.15"/><circle cx="764.1" cy="227.5" r="2.15"/><circle cx="765.2" cy="225.5" r="2.15"/><circle cx="766.3" cy="226.0" r="2.15"/><circle cx="767.3" cy="228.5" r="2.15"/><circle cx="768.4" cy="225.2" r="2.15"/><circle cx="769.4" cy="226.1" r="2.15"/><circle cx="770.5" cy="225.1" r="2.15"/><circle cx="771.5" cy="225.7" r="2.15"/><circle cx="772.6" cy="227.8" r="2.15"/><circle cx="773.6" cy="225.1" r="2.15"/><circle cx="774.7" cy="227.0" r="2.15"/><circle cx="775.7" cy="223.3" r="2.15"/><circle cx="776.8" cy="224.5" r="2.15"/><circle cx="777.8" cy="225.1" r="2.15"/><circle cx="778.9" cy="226.4" r="2.15"/><circle cx="779.9" cy="224.1" r="2.15"/><circle cx="781.0" cy="224.0" r="2.15"/><circle cx="782.0" cy="226.2" r="2.15"/><circle cx="783.1" cy="220.4" r="2.15"/><circle cx="784.1" cy="223.0" r="2.15"/><circle cx="785.2" cy="220.5" r="2.15"/><circle cx="786.3" cy="224.7" r="2.15"/><circle cx="787.3" cy="220.0" r="2.15"/><circle cx="788.4" cy="226.0" r="2.15"/><circle cx="789.4" cy="227.2" r="2.15"/><circle cx="790.5" cy="226.6" r="2.15"/><circle cx="791.5" cy="228.4" r="2.15"/><circle cx="792.6" cy="232.6" r="2.15"/><circle cx="793.6" cy="230.9" r="2.15"/><circle cx="794.7" cy="227.9" r="2.15"/><circle cx="795.7" cy="225.6" r="2.15"/><circle cx="796.8" cy="227.2" r="2.15"/><circle cx="797.8" cy="229.8" r="2.15"/><circle cx="798.9" cy="227.9" r="2.15"/><circle cx="799.9" cy="231.6" r="2.15"/><circle cx="801.0" cy="228.6" r="2.15"/><circle cx="802.0" cy="231.3" r="2.15"/><circle cx="803.1" cy="229.5" r="2.15"/><circle cx="804.1" cy="229.9" r="2.15"/><circle cx="805.2" cy="229.2" r="2.15"/><circle cx="806.3" cy="231.3" r="2.15"/><circle cx="807.3" cy="229.5" r="2.15"/><circle cx="808.4" cy="231.7" r="2.15"/><circle cx="809.4" cy="230.4" r="2.15"/><circle cx="810.5" cy="231.0" r="2.15"/><circle cx="811.5" cy="235.3" r="2.15"/><circle cx="812.6" cy="231.5" r="2.15"/><circle cx="813.6" cy="231.8" r="2.15"/><circle cx="814.7" cy="233.4" r="2.15"/><circle cx="815.7" cy="232.5" r="2.15"/><circle cx="816.8" cy="234.7" r="2.15"/><circle cx="817.8" cy="231.7" r="2.15"/><circle cx="818.9" cy="231.8" r="2.15"/><circle cx="819.9" cy="231.8" r="2.15"/><circle cx="821.0" cy="228.4" r="2.15"/><circle cx="822.0" cy="232.6" r="2.15"/><circle cx="823.1" cy="232.9" r="2.15"/><circle cx="824.1" cy="234.0" r="2.15"/><circle cx="825.2" cy="231.8" r="2.15"/><circle cx="826.3" cy="234.1" r="2.15"/><circle cx="827.3" cy="230.7" r="2.15"/><circle cx="828.4" cy="234.1" r="2.15"/><circle cx="829.4" cy="232.9" r="2.15"/><circle cx="830.5" cy="230.4" r="2.15"/><circle cx="831.5" cy="231.4" r="2.15"/><circle cx="832.6" cy="232.9" r="2.15"/><circle cx="833.6" cy="230.7" r="2.15"/><circle cx="834.7" cy="233.9" r="2.15"/><circle cx="835.7" cy="232.8" r="2.15"/><circle cx="836.8" cy="233.8" r="2.15"/><circle cx="837.8" cy="234.4" r="2.15"/><circle cx="838.9" cy="232.3" r="2.15"/><circle cx="839.9" cy="231.4" r="2.15"/><circle cx="841.0" cy="233.8" r="2.15"/><circle cx="842.0" cy="235.2" r="2.15"/><circle cx="843.1" cy="234.4" r="2.15"/><circle cx="844.1" cy="237.2" r="2.15"/><circle cx="845.2" cy="234.1" r="2.15"/><circle cx="846.3" cy="235.0" r="2.15"/><circle cx="847.3" cy="229.8" r="2.15"/><circle cx="848.4" cy="234.2" r="2.15"/><circle cx="849.4" cy="235.5" r="2.15"/><circle cx="850.5" cy="231.5" r="2.15"/><circle cx="851.5" cy="232.8" r="2.15"/><circle cx="852.6" cy="231.7" r="2.15"/><circle cx="853.6" cy="231.9" r="2.15"/><circle cx="854.7" cy="232.8" r="2.15"/><circle cx="855.7" cy="234.0" r="2.15"/><circle cx="856.8" cy="232.9" r="2.15"/><circle cx="857.8" cy="234.2" r="2.15"/><circle cx="858.9" cy="236.6" r="2.15"/><circle cx="859.9" cy="236.4" r="2.15"/><circle cx="861.0" cy="238.1" r="2.15"/><circle cx="862.0" cy="237.1" r="2.15"/><circle cx="863.1" cy="236.9" r="2.15"/><circle cx="864.1" cy="237.5" r="2.15"/><circle cx="865.2" cy="238.8" r="2.15"/><circle cx="866.3" cy="240.5" r="2.15"/><circle cx="867.3" cy="237.3" r="2.15"/><circle cx="868.4" cy="240.6" r="2.15"/><circle cx="869.4" cy="240.2" r="2.15"/><circle cx="870.5" cy="240.7" r="2.15"/><circle cx="871.5" cy="239.9" r="2.15"/><circle cx="872.6" cy="239.8" r="2.15"/><circle cx="873.6" cy="235.4" r="2.15"/><circle cx="874.7" cy="237.0" r="2.15"/><circle cx="875.7" cy="240.3" r="2.15"/><circle cx="876.8" cy="238.7" r="2.15"/><circle cx="877.8" cy="239.2" r="2.15"/><circle cx="878.9" cy="235.4" r="2.15"/><circle cx="879.9" cy="235.1" r="2.15"/><circle cx="881.0" cy="238.5" r="2.15"/><circle cx="882.0" cy="236.8" r="2.15"/><circle cx="883.1" cy="238.3" r="2.15"/><circle cx="884.1" cy="237.7" r="2.15"/><circle cx="885.2" cy="235.7" r="2.15"/><circle cx="886.3" cy="238.9" r="2.15"/><circle cx="887.3" cy="241.2" r="2.15"/><circle cx="888.4" cy="238.2" r="2.15"/><circle cx="889.4" cy="238.6" r="2.15"/><circle cx="890.5" cy="238.4" r="2.15"/><circle cx="891.5" cy="238.6" r="2.15"/><circle cx="892.6" cy="241.4" r="2.15"/><circle cx="893.6" cy="244.1" r="2.15"/><circle cx="894.7" cy="238.7" r="2.15"/><circle cx="895.7" cy="240.7" r="2.15"/><circle cx="896.8" cy="242.4" r="2.15"/><circle cx="897.8" cy="242.0" r="2.15"/><circle cx="898.9" cy="238.6" r="2.15"/><circle cx="899.9" cy="239.8" r="2.15"/><circle cx="901.0" cy="239.6" r="2.15"/><circle cx="902.0" cy="238.8" r="2.15"/><circle cx="903.1" cy="242.1" r="2.15"/><circle cx="904.1" cy="243.4" r="2.15"/><circle cx="905.2" cy="243.6" r="2.15"/><circle cx="906.3" cy="243.5" r="2.15"/><circle cx="907.3" cy="242.6" r="2.15"/><circle cx="908.4" cy="243.9" r="2.15"/><circle cx="909.4" cy="243.0" r="2.15"/><circle cx="910.5" cy="244.1" r="2.15"/><circle cx="911.5" cy="243.9" r="2.15"/><circle cx="912.6" cy="242.3" r="2.15"/><circle cx="913.6" cy="241.0" r="2.15"/><circle cx="914.7" cy="241.1" r="2.15"/><circle cx="915.7" cy="244.4" r="2.15"/><circle cx="916.8" cy="244.7" r="2.15"/><circle cx="917.8" cy="245.3" r="2.15"/><circle cx="918.9" cy="243.2" r="2.15"/><circle cx="919.9" cy="242.9" r="2.15"/><circle cx="921.0" cy="247.1" r="2.15"/><circle cx="922.0" cy="245.9" r="2.15"/><circle cx="923.1" cy="248.1" r="2.15"/><circle cx="924.1" cy="248.3" r="2.15"/><circle cx="925.2" cy="248.0" r="2.15"/><circle cx="926.3" cy="249.1" r="2.15"/><circle cx="927.3" cy="247.6" r="2.15"/><circle cx="928.4" cy="251.8" r="2.15"/><circle cx="929.4" cy="250.6" r="2.15"/><circle cx="930.5" cy="249.5" r="2.15"/><circle cx="931.5" cy="250.7" r="2.15"/><circle cx="932.6" cy="249.5" r="2.15"/><circle cx="933.6" cy="253.1" r="2.15"/><circle cx="934.7" cy="250.0" r="2.15"/><circle cx="935.7" cy="252.8" r="2.15"/><circle cx="936.8" cy="251.1" r="2.15"/><circle cx="937.8" cy="250.6" r="2.15"/><circle cx="938.9" cy="248.2" r="2.15"/><circle cx="939.9" cy="250.5" r="2.15"/><circle cx="941.0" cy="249.7" r="2.15"/><circle cx="942.0" cy="252.0" r="2.15"/><circle cx="943.1" cy="249.0" r="2.15"/><circle cx="944.1" cy="253.3" r="2.15"/><circle cx="945.2" cy="253.3" r="2.15"/><circle cx="946.3" cy="255.0" r="2.15"/><circle cx="947.3" cy="252.6" r="2.15"/><circle cx="948.4" cy="251.4" r="2.15"/><circle cx="949.4" cy="254.3" r="2.15"/><circle cx="950.5" cy="254.4" r="2.15"/><circle cx="951.5" cy="254.2" r="2.15"/><circle cx="952.6" cy="254.1" r="2.15"/><circle cx="953.6" cy="255.4" r="2.15"/><circle cx="954.7" cy="257.3" r="2.15"/><circle cx="955.7" cy="253.4" r="2.15"/><circle cx="956.8" cy="258.9" r="2.15"/><circle cx="957.8" cy="257.6" r="2.15"/><circle cx="958.9" cy="255.6" r="2.15"/><circle cx="959.9" cy="254.8" r="2.15"/><circle cx="961.0" cy="257.5" r="2.15"/><circle cx="962.0" cy="257.1" r="2.15"/><circle cx="963.1" cy="256.6" r="2.15"/><circle cx="964.1" cy="257.4" r="2.15"/><circle cx="965.2" cy="255.4" r="2.15"/><circle cx="966.3" cy="257.8" r="2.15"/><circle cx="967.3" cy="258.4" r="2.15"/><circle cx="968.4" cy="258.2" r="2.15"/><circle cx="969.4" cy="257.6" r="2.15"/><circle cx="970.5" cy="255.8" r="2.15"/><circle cx="971.5" cy="255.6" r="2.15"/><circle cx="972.6" cy="258.7" r="2.15"/><circle cx="973.6" cy="261.0" r="2.15"/><circle cx="974.7" cy="261.3" r="2.15"/><circle cx="975.7" cy="255.6" r="2.15"/><circle cx="976.8" cy="260.0" r="2.15"/><circle cx="977.8" cy="258.3" r="2.15"/><circle cx="978.9" cy="255.5" r="2.15"/><circle cx="979.9" cy="260.2" r="2.15"/><circle cx="981.0" cy="259.7" r="2.15"/><circle cx="982.0" cy="260.6" r="2.15"/><circle cx="983.1" cy="261.1" r="2.15"/><circle cx="984.1" cy="258.0" r="2.15"/><circle cx="985.2" cy="257.2" r="2.15"/><circle cx="986.3" cy="262.0" r="2.15"/><circle cx="987.3" cy="257.5" r="2.15"/><circle cx="988.4" cy="260.4" r="2.15"/><circle cx="989.4" cy="259.4" r="2.15"/><circle cx="990.5" cy="259.6" r="2.15"/><circle cx="991.5" cy="262.3" r="2.15"/><circle cx="992.6" cy="261.1" r="2.15"/><circle cx="993.6" cy="261.9" r="2.15"/><circle cx="994.7" cy="257.5" r="2.15"/><circle cx="995.7" cy="257.9" r="2.15"/><circle cx="996.8" cy="261.4" r="2.15"/><circle cx="997.8" cy="263.8" r="2.15"/><circle cx="998.9" cy="260.6" r="2.15"/><circle cx="999.9" cy="262.6" r="2.15"/><circle cx="1001.0" cy="260.0" r="2.15"/><circle cx="1002.0" cy="259.6" r="2.15"/><circle cx="1003.1" cy="260.9" r="2.15"/><circle cx="1004.1" cy="264.5" r="2.15"/><circle cx="1005.2" cy="265.4" r="2.15"/><circle cx="1006.3" cy="264.9" r="2.15"/><circle cx="1007.3" cy="263.9" r="2.15"/><circle cx="1008.4" cy="264.9" r="2.15"/><circle cx="1009.4" cy="261.9" r="2.15"/><circle cx="1010.5" cy="262.3" r="2.15"/><circle cx="1011.5" cy="263.4" r="2.15"/><circle cx="1012.6" cy="263.8" r="2.15"/><circle cx="1013.6" cy="262.5" r="2.15"/><circle cx="1014.7" cy="261.0" r="2.15"/><circle cx="1015.7" cy="266.8" r="2.15"/><circle cx="1016.8" cy="263.1" r="2.15"/><circle cx="1017.8" cy="264.0" r="2.15"/><circle cx="1018.9" cy="265.2" r="2.15"/><circle cx="1019.9" cy="265.2" r="2.15"/><circle cx="1021.0" cy="264.8" r="2.15"/><circle cx="1022.0" cy="262.6" r="2.15"/><circle cx="1023.1" cy="265.4" r="2.15"/><circle cx="1024.1" cy="266.3" r="2.15"/><circle cx="1025.2" cy="267.6" r="2.15"/><circle cx="1026.3" cy="264.7" r="2.15"/><circle cx="1027.3" cy="267.9" r="2.15"/><circle cx="1028.4" cy="267.0" r="2.15"/><circle cx="1029.4" cy="265.7" r="2.15"/><circle cx="1030.5" cy="267.1" r="2.15"/><circle cx="1031.5" cy="268.1" r="2.15"/><circle cx="1032.6" cy="267.9" r="2.15"/><circle cx="1033.6" cy="266.4" r="2.15"/><circle cx="1034.7" cy="268.6" r="2.15"/><circle cx="1035.7" cy="269.1" r="2.15"/><circle cx="1036.8" cy="268.6" r="2.15"/><circle cx="1037.8" cy="270.1" r="2.15"/><circle cx="1038.9" cy="269.8" r="2.15"/><circle cx="1039.9" cy="271.4" r="2.15"/><circle cx="1041.0" cy="268.9" r="2.15"/><circle cx="1042.0" cy="270.0" r="2.15"/><circle cx="1043.1" cy="273.8" r="2.15"/><circle cx="1044.1" cy="270.7" r="2.15"/><circle cx="1045.2" cy="267.4" r="2.15"/><circle cx="1046.3" cy="269.5" r="2.15"/><circle cx="1047.3" cy="269.9" r="2.15"/><circle cx="1048.4" cy="267.0" r="2.15"/><circle cx="1049.4" cy="270.2" r="2.15"/><circle cx="1050.5" cy="268.6" r="2.15"/><circle cx="1051.5" cy="268.3" r="2.15"/><circle cx="1052.6" cy="268.2" r="2.15"/><circle cx="1053.6" cy="271.4" r="2.15"/><circle cx="1054.7" cy="272.6" r="2.15"/><circle cx="1055.7" cy="268.6" r="2.15"/><circle cx="1056.8" cy="272.5" r="2.15"/><circle cx="1057.8" cy="271.8" r="2.15"/><circle cx="1058.9" cy="267.4" r="2.15"/><circle cx="1059.9" cy="272.3" r="2.15"/><circle cx="1061.0" cy="275.2" r="2.15"/><circle cx="1062.0" cy="266.9" r="2.15"/><circle cx="1063.1" cy="270.8" r="2.15"/><circle cx="1064.1" cy="271.8" r="2.15"/><circle cx="1065.2" cy="267.8" r="2.15"/><circle cx="1066.3" cy="272.7" r="2.15"/><circle cx="1067.3" cy="269.9" r="2.15"/><circle cx="1068.4" cy="272.4" r="2.15"/><circle cx="1069.4" cy="272.8" r="2.15"/><circle cx="1070.5" cy="271.3" r="2.15"/><circle cx="1071.5" cy="271.1" r="2.15"/><circle cx="1072.6" cy="270.1" r="2.15"/><circle cx="1073.6" cy="270.2" r="2.15"/><circle cx="1074.7" cy="273.5" r="2.15"/><circle cx="1075.7" cy="272.9" r="2.15"/><circle cx="1076.8" cy="269.8" r="2.15"/><circle cx="1077.8" cy="272.4" r="2.15"/><circle cx="1078.9" cy="273.3" r="2.15"/><circle cx="1079.9" cy="271.5" r="2.15"/><circle cx="1081.0" cy="271.7" r="2.15"/><circle cx="1082.0" cy="272.1" r="2.15"/><circle cx="1083.1" cy="275.3" r="2.15"/><circle cx="1084.1" cy="275.5" r="2.15"/><circle cx="1085.2" cy="273.4" r="2.15"/><circle cx="1086.3" cy="273.1" r="2.15"/><circle cx="1087.3" cy="277.2" r="2.15"/><circle cx="1088.4" cy="276.8" r="2.15"/><circle cx="1089.4" cy="276.1" r="2.15"/><circle cx="1090.5" cy="274.2" r="2.15"/><circle cx="1091.5" cy="278.1" r="2.15"/><circle cx="1092.6" cy="272.3" r="2.15"/><circle cx="1093.6" cy="276.5" r="2.15"/><circle cx="1094.7" cy="276.0" r="2.15"/><circle cx="1095.7" cy="273.1" r="2.15"/><circle cx="1096.8" cy="275.7" r="2.15"/><circle cx="1097.8" cy="275.0" r="2.15"/><circle cx="1098.9" cy="278.1" r="2.15"/><circle cx="1099.9" cy="277.1" r="2.15"/><circle cx="1101.0" cy="279.4" r="2.15"/><circle cx="1102.0" cy="277.6" r="2.15"/><circle cx="1103.1" cy="277.8" r="2.15"/><circle cx="1104.1" cy="279.7" r="2.15"/><circle cx="1105.2" cy="277.1" r="2.15"/><circle cx="1106.3" cy="278.2" r="2.15"/><circle cx="1107.3" cy="282.4" r="2.15"/><circle cx="1108.4" cy="277.9" r="2.15"/><circle cx="1109.4" cy="281.2" r="2.15"/><circle cx="1110.5" cy="279.0" r="2.15"/><circle cx="1111.5" cy="282.0" r="2.15"/><circle cx="1112.6" cy="281.4" r="2.15"/><circle cx="1113.6" cy="280.1" r="2.15"/><circle cx="1114.7" cy="277.6" r="2.15"/><circle cx="1115.7" cy="284.0" r="2.15"/><circle cx="1116.8" cy="282.0" r="2.15"/><circle cx="1117.8" cy="281.6" r="2.15"/><circle cx="1118.9" cy="279.1" r="2.15"/><circle cx="1119.9" cy="281.6" r="2.15"/><circle cx="1121.0" cy="280.3" r="2.15"/><circle cx="1122.0" cy="279.0" r="2.15"/><circle cx="1123.1" cy="280.1" r="2.15"/><circle cx="1124.1" cy="282.0" r="2.15"/><circle cx="1125.2" cy="281.5" r="2.15"/><circle cx="1126.3" cy="281.9" r="2.15"/><circle cx="1127.3" cy="281.7" r="2.15"/><circle cx="1128.4" cy="283.3" r="2.15"/><circle cx="1129.4" cy="282.4" r="2.15"/><circle cx="1130.5" cy="281.5" r="2.15"/><circle cx="1131.5" cy="283.3" r="2.15"/><circle cx="1132.6" cy="283.3" r="2.15"/><circle cx="1133.6" cy="282.4" r="2.15"/><circle cx="1134.7" cy="282.2" r="2.15"/><circle cx="1135.7" cy="285.7" r="2.15"/><circle cx="1136.8" cy="285.5" r="2.15"/><circle cx="1137.8" cy="282.6" r="2.15"/><circle cx="1138.9" cy="284.6" r="2.15"/><circle cx="1139.9" cy="286.5" r="2.15"/><circle cx="1141.0" cy="285.1" r="2.15"/><circle cx="1142.0" cy="282.7" r="2.15"/><circle cx="1143.1" cy="286.4" r="2.15"/><circle cx="1144.1" cy="286.6" r="2.15"/><circle cx="1145.2" cy="285.3" r="2.15"/><circle cx="1146.3" cy="282.1" r="2.15"/><circle cx="1147.3" cy="285.8" r="2.15"/><circle cx="1148.4" cy="284.4" r="2.15"/><circle cx="1149.4" cy="283.6" r="2.15"/><circle cx="1150.5" cy="283.5" r="2.15"/><circle cx="1151.5" cy="285.6" r="2.15"/><circle cx="1152.6" cy="284.1" r="2.15"/><circle cx="1153.6" cy="285.7" r="2.15"/><circle cx="1154.7" cy="285.5" r="2.15"/><circle cx="1155.7" cy="286.4" r="2.15"/><circle cx="1156.8" cy="286.5" r="2.15"/><circle cx="1157.8" cy="289.5" r="2.15"/><circle cx="1158.9" cy="285.8" r="2.15"/><circle cx="1159.9" cy="287.6" r="2.15"/><circle cx="1161.0" cy="291.1" r="2.15"/><circle cx="1162.0" cy="288.2" r="2.15"/><circle cx="1163.1" cy="287.6" r="2.15"/><circle cx="1164.1" cy="288.6" r="2.15"/><circle cx="1165.2" cy="292.3" r="2.15"/><circle cx="1166.3" cy="289.9" r="2.15"/><circle cx="1167.3" cy="290.6" r="2.15"/><circle cx="1168.4" cy="290.2" r="2.15"/><circle cx="1169.4" cy="294.1" r="2.15"/><circle cx="1170.5" cy="290.0" r="2.15"/><circle cx="1171.5" cy="289.4" r="2.15"/><circle cx="1172.6" cy="289.6" r="2.15"/><circle cx="1173.6" cy="290.6" r="2.15"/><circle cx="1174.7" cy="291.0" r="2.15"/><circle cx="1175.7" cy="290.0" r="2.15"/><circle cx="1176.8" cy="290.8" r="2.15"/><circle cx="1177.8" cy="291.7" r="2.15"/><circle cx="1178.9" cy="289.9" r="2.15"/><circle cx="1179.9" cy="289.5" r="2.15"/><circle cx="1181.0" cy="289.1" r="2.15"/><circle cx="1182.0" cy="290.0" r="2.15"/><circle cx="1183.1" cy="291.9" r="2.15"/><circle cx="1184.1" cy="291.3" r="2.15"/><circle cx="1185.2" cy="289.7" r="2.15"/><circle cx="1186.3" cy="289.7" r="2.15"/><circle cx="1187.3" cy="289.1" r="2.15"/><circle cx="1188.4" cy="294.0" r="2.15"/><circle cx="1189.4" cy="292.5" r="2.15"/><circle cx="1190.5" cy="293.0" r="2.15"/></g>
<g clip-path="url(#rclip)">
<polyline points="694.8,35.7 753.0,169.2 754.6,217.0 771.1,220.4 787.7,223.7 804.2,227.0 820.7,230.3 837.2,233.5 853.8,236.6 870.3,239.7 886.8,242.8 903.3,245.7 919.8,248.7 936.4,251.6 952.9,254.4 969.4,257.2 985.9,260.0 1002.4,262.7 1019.0,265.3 1035.5,267.9 1052.0,270.5 1068.5,273.0 1085.1,275.4 1101.6,277.8 1118.1,280.2 1134.6,282.5 1151.1,284.8 1167.7,287.0 1184.2,289.1 1200.7,291.2 1217.2,293.3 1233.8,295.3" fill="none" stroke="#b8182a" stroke-width="1.25"/>
<line x1="1190.6" x2="1190.6" y1="10.6" y2="443.1" stroke="#222" stroke-width="0.9" stroke-dasharray="3.6 3.7"/>
</g>
<g stroke="#222" stroke-width="1.25" fill="none">
<rect x="694.8" y="10.6" width="538.95" height="432.5"/>
</g>
<g stroke="#262626" stroke-width="0.9" fill="none"></g>
<circle cx="1107.8" cy="58.1" r="2.3" fill="none" stroke="#0072bd" stroke-width="1"/>
<line x1="1094.5" x2="1121.5" y1="73.5" y2="73.5" stroke="#b8182a" stroke-width="1.25"/>
<text stroke="none" x="1124.4" y="61" font-size="12.8" fill="#1c1c1c" textLength="26.1" lengthAdjust="spacingAndGlyphs">Data</text>
<text stroke="none" x="1124" y="76.9" font-size="12.8" fill="#1c1c1c" textLength="59.5" lengthAdjust="spacingAndGlyphs">Simulation</text>
<g stroke="#262626" stroke-width="1.0" fill="none"><text stroke="none" x="694.8" y="459.6" font-size="14.6" text-anchor="middle" fill="#3c3c3c" >0</text><text stroke="none" x="748.7" y="459.6" font-size="14.6" text-anchor="middle" fill="#3c3c3c" >10</text><path d="M748.7 443.1v-5.8M748.7 10.6v5.8"/><text stroke="none" x="802.6" y="459.6" font-size="14.6" text-anchor="middle" fill="#3c3c3c" >20</text><path d="M802.6 443.1v-5.8M802.6 10.6v5.8"/><text stroke="none" x="856.5" y="459.6" font-size="14.6" text-anchor="middle" fill="#3c3c3c" >30</text><path d="M856.5 443.1v-5.8M856.5 10.6v5.8"/><text stroke="none" x="910.4" y="459.6" font-size="14.6" text-anchor="middle" fill="#3c3c3c" >40</text><path d="M910.4 443.1v-5.8M910.4 10.6v5.8"/><text stroke="none" x="964.3" y="459.6" font-size="14.6" text-anchor="middle" fill="#3c3c3c" >50</text><path d="M964.3 443.1v-5.8M964.3 10.6v5.8"/><text stroke="none" x="1018.2" y="459.6" font-size="14.6" text-anchor="middle" fill="#3c3c3c" >60</text><path d="M1018.2 443.1v-5.8M1018.2 10.6v5.8"/><text stroke="none" x="1072.1" y="459.6" font-size="14.6" text-anchor="middle" fill="#3c3c3c" >70</text><path d="M1072.1 443.1v-5.8M1072.1 10.6v5.8"/><text stroke="none" x="1126.0" y="459.6" font-size="14.6" text-anchor="middle" fill="#3c3c3c" >80</text><path d="M1126.0 443.1v-5.8M1126.0 10.6v5.8"/><text stroke="none" x="1179.9" y="459.6" font-size="14.6" text-anchor="middle" fill="#3c3c3c" >90</text><path d="M1179.9 443.1v-5.8M1179.9 10.6v5.8"/><text stroke="none" x="1233.8" y="459.6" font-size="14.6" text-anchor="middle" fill="#3c3c3c" >100</text><text stroke="none" x="689.8" y="447.0" font-size="14.6" text-anchor="end" fill="#3c3c3c" >0</text><text stroke="none" x="689.8" y="403.8" font-size="14.6" text-anchor="end" fill="#3c3c3c" >0.05</text><path d="M694.8 399.9h5.8M1233.8 399.9h-5.8"/><text stroke="none" x="689.8" y="360.5" font-size="14.6" text-anchor="end" fill="#3c3c3c" >0.1</text><path d="M694.8 356.6h5.8M1233.8 356.6h-5.8"/><text stroke="none" x="689.8" y="317.2" font-size="14.6" text-anchor="end" fill="#3c3c3c" >0.15</text><path d="M694.8 313.4h5.8M1233.8 313.4h-5.8"/><text stroke="none" x="689.8" y="274.0" font-size="14.6" text-anchor="end" fill="#3c3c3c" >0.2</text><path d="M694.8 270.1h5.8M1233.8 270.1h-5.8"/><text stroke="none" x="689.8" y="230.8" font-size="14.6" text-anchor="end" fill="#3c3c3c" >0.25</text><path d="M694.8 226.9h5.8M1233.8 226.9h-5.8"/><text stroke="none" x="689.8" y="187.5" font-size="14.6" text-anchor="end" fill="#3c3c3c" >0.3</text><path d="M694.8 183.6h5.8M1233.8 183.6h-5.8"/><text stroke="none" x="689.8" y="144.2" font-size="14.6" text-anchor="end" fill="#3c3c3c" >0.35</text><path d="M694.8 140.3h5.8M1233.8 140.3h-5.8"/><text stroke="none" x="689.8" y="101.0" font-size="14.6" text-anchor="end" fill="#3c3c3c" >0.4</text><path d="M694.8 97.1h5.8M1233.8 97.1h-5.8"/><text stroke="none" x="689.8" y="57.8" font-size="14.6" text-anchor="end" fill="#3c3c3c" >0.45</text><path d="M694.8 53.9h5.8M1233.8 53.9h-5.8"/><text stroke="none" x="689.8" y="14.5" font-size="14.6" text-anchor="end" fill="#3c3c3c" >0.5</text><text stroke="none" x="916.4" y="478.7" font-size="15.8" fill="#3c3c3c" textLength="45.3" lengthAdjust="spacingAndGlyphs" >Depth,</text><text stroke="none" x="968.0" y="478.7" font-size="15.8" fill="#3c3c3c" textLength="7.8" lengthAdjust="spacingAndGlyphs" font-style="italic">x</text><text stroke="none" x="982.8" y="478.7" font-size="15.8" fill="#3c3c3c" textLength="7.0" lengthAdjust="spacingAndGlyphs" >/</text><text stroke="none" x="990.8" y="478.7" font-size="15.8" fill="#3c3c3c" textLength="8.6" lengthAdjust="spacingAndGlyphs" font-style="italic">μ</text><text stroke="none" x="1000.1" y="478.7" font-size="15.8" fill="#3c3c3c" textLength="12.1" lengthAdjust="spacingAndGlyphs" >m</text><g transform="translate(643.2,228.5) rotate(-90)"><text stroke="none" x="-67.9" y="0" font-size="15.8" fill="#3c3c3c" textLength="135.8" lengthAdjust="spacingAndGlyphs">Isotopic Fraction, <tspan font-style="italic">C</tspan></text></g></g>
</svg>
</body></html>
